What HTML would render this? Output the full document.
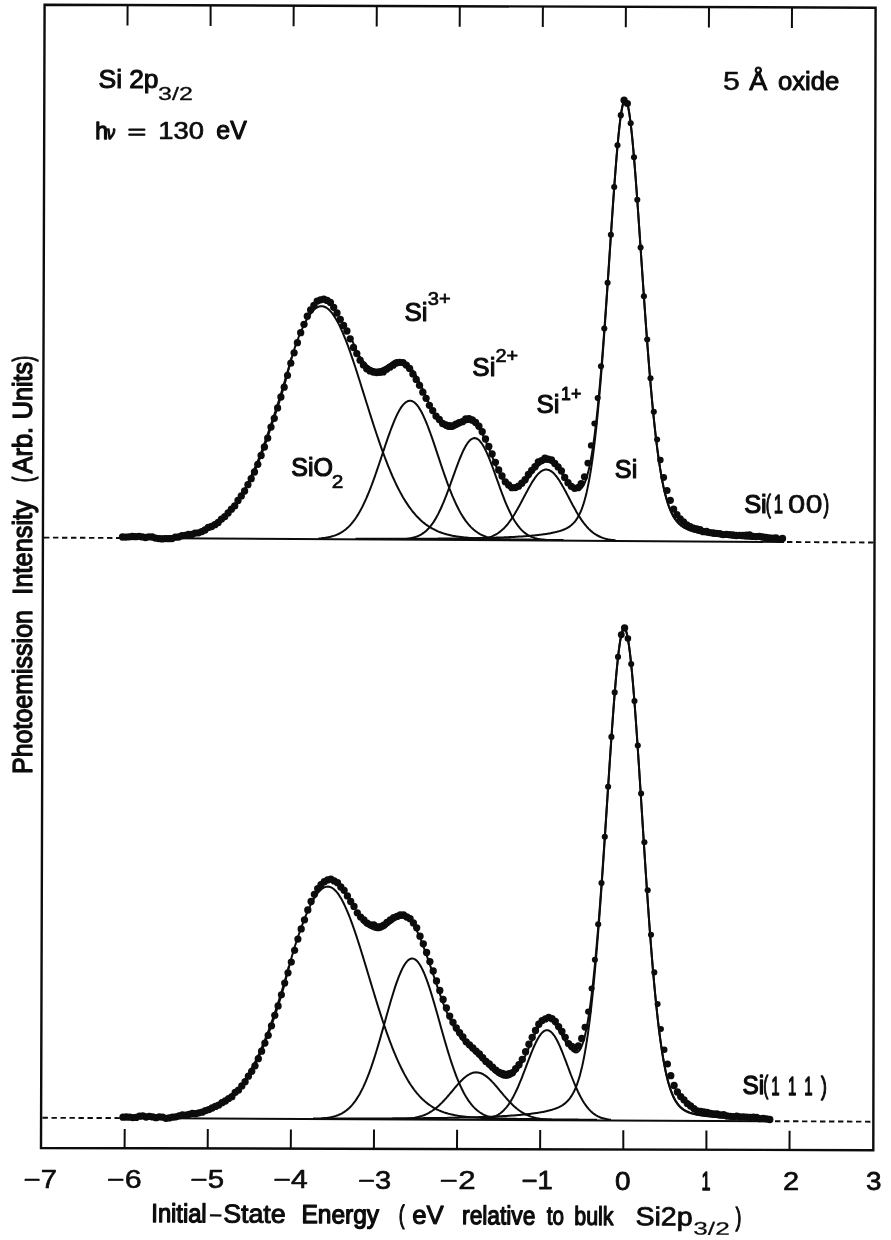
<!DOCTYPE html>
<html lang="en"><head><meta charset="utf-8"><title>Si 2p photoemission spectra</title>
<style>
html,body{margin:0;padding:0;background:#fff;}
body{width:891px;height:1240px;overflow:hidden;}
svg{display:block;filter:blur(0.45px);}
text{font-family:"Liberation Sans",sans-serif;fill:#0c0c0c;stroke:#0c0c0c;stroke-linejoin:round;}
.ln path{fill:none;stroke:#0c0c0c;stroke-width:2.0;stroke-linejoin:round;}
.dots circle{fill:#0c0c0c;}
</style></head><body>
<svg width="891" height="1240" viewBox="0 0 891 1240">
<rect width="891" height="1240" fill="#fff"/>
<polygon points="44.6,4.8 875.6,7.7 873.3,1150.2 41.0,1148.0" fill="none" stroke="#0c0c0c" stroke-width="2.4" stroke-linejoin="miter"/>
<path d="M127.6,5.1 L127.5,25.6 M124.6,1148.2 L124.7,1128.9 M210.6,5.4 L210.6,25.9 M207.7,1148.4 L207.8,1129.1 M293.7,5.7 L293.6,26.2 M290.8,1148.7 L290.9,1129.4 M376.8,6.0 L376.7,26.5 M373.9,1148.9 L374.0,1129.6 M459.8,6.3 L459.7,26.8 M457.0,1149.1 L457.1,1129.8 M542.9,6.5 L542.8,27.0 M540.1,1149.3 L540.2,1130.0 M625.9,6.8 L625.8,27.3 M623.3,1149.5 L623.3,1130.2 M709.0,7.1 L708.9,27.6 M706.4,1149.8 L706.4,1130.5 M792.0,7.4 L791.9,27.9 M789.5,1150.0 L789.6,1130.7" stroke="#0c0c0c" stroke-width="2" fill="none"/>
<path d="M44,537.6 L122,538.0" stroke="#0c0c0c" stroke-width="1.9" stroke-dasharray="5.4 3.6" fill="none"/><path d="M787,542.0 L873.5,542.5" stroke="#0c0c0c" stroke-width="1.9" stroke-dasharray="5.4 3.6" fill="none"/><path d="M42.5,1117.8 L122,1118.1" stroke="#0c0c0c" stroke-width="1.9" stroke-dasharray="5.4 3.6" fill="none"/><path d="M775,1121.2 L872.5,1121.7" stroke="#0c0c0c" stroke-width="1.9" stroke-dasharray="5.4 3.6" fill="none"/>
<g class="ln">
<path d="M122.5,537.1 L123.5,537.1 L124.5,537.1 L125.5,537.1 L126.5,537.1 L127.5,537.1 L128.5,537.1 L129.5,537.1 L130.5,537.1 L131.5,537.1 L132.5,537.1 L133.5,537.1 L134.5,537.1 L135.5,537.1 L136.5,537.1 L137.5,537.1 L138.5,537.1 L139.5,537.1 L140.5,537.1 L141.5,537.1 L142.5,537.0 L143.5,537.0 L144.5,537.0 L145.5,537.0 L146.5,537.0 L147.5,537.0 L148.5,537.0 L149.5,537.0 L150.5,537.0 L151.5,536.9 L152.5,536.9 L153.5,536.9 L154.5,536.9 L155.5,537.1 L156.5,537.2 L157.5,537.4 L158.5,537.6 L159.5,537.8 L160.5,537.9 L161.5,538.0 L162.5,538.1 L163.5,538.2 L164.5,538.2 L165.5,538.2 L166.5,538.1 L167.5,538.1 L168.5,538.0 L169.5,537.9 L170.5,537.7 L171.5,537.6 L172.5,537.4 L173.5,537.3 L174.5,537.1 L175.5,537.0 L176.5,536.8 L177.5,536.6 L178.5,536.4 L179.5,536.2 L180.5,536.0 L181.5,535.8 L182.5,535.7 L183.5,535.5 L184.5,535.3 L185.5,535.2 L186.5,535.0 L187.5,534.9 L188.5,534.7 L189.5,534.6 L190.5,534.4 L191.5,534.3 L192.5,534.1 L193.5,533.9 L194.5,533.7 L195.5,533.4 L196.5,533.2 L197.5,533.0 L198.5,532.7 L199.5,532.4 L200.5,532.1 L201.5,531.8 L202.5,531.5 L203.5,531.1 L204.5,530.8 L205.5,530.4 L206.5,530.0 L207.5,529.6 L208.5,529.1 L209.5,528.7 L210.5,528.2 L211.5,527.6 L212.5,527.1 L213.5,526.5 L214.5,525.9 L215.5,525.3 L216.5,524.7 L217.5,524.0 L218.5,523.2 L219.5,522.5 L220.5,521.7 L221.5,520.9 L222.5,520.0 L223.5,519.1 L224.5,518.2 L225.5,517.2 L226.5,516.2 L227.5,515.2 L228.5,514.1 L229.5,512.9 L230.5,511.8 L231.5,510.5 L232.5,509.3 L233.5,507.9 L234.5,506.6 L235.5,505.2 L236.5,503.7 L237.5,502.2 L238.5,500.6 L239.5,499.0 L240.5,497.3 L241.5,495.6 L242.5,493.8 L243.5,492.0 L244.5,490.1 L245.5,488.4 L246.5,486.7 L247.5,485.0 L248.5,483.2 L249.5,481.3 L250.5,479.4 L251.5,477.5 L252.5,475.5 L253.5,473.4 L254.5,471.2 L255.5,469.0 L256.5,466.7 L257.5,464.4 L258.5,461.9 L259.5,459.4 L260.5,456.9 L261.5,454.2 L262.5,451.6 L263.5,448.8 L264.5,446.0 L265.5,443.2 L266.5,440.3 L267.5,437.4 L268.5,434.5 L269.5,431.5 L270.5,428.6 L271.5,425.6 L272.5,422.6 L273.5,419.7 L274.5,416.7 L275.5,413.6 L276.5,410.6 L277.5,407.5 L278.5,404.4 L279.5,401.2 L280.5,398.0 L281.5,394.7 L282.5,391.4 L283.5,388.0 L284.5,384.6 L285.5,381.1 L286.5,377.3 L287.5,373.6 L288.5,369.7 L289.5,365.9 L290.5,362.2 L291.5,358.6 L292.5,355.1 L293.5,351.7 L294.5,348.6 L295.5,345.6 L296.5,342.8 L297.5,340.1 L298.5,337.5 L299.5,335.0 L300.5,332.6 L301.5,330.3 L302.5,328.1 L303.5,325.9 L304.5,323.9 L305.5,321.9 L306.5,320.1 L307.5,318.4 L308.5,316.7 L309.5,315.2 L310.5,313.8 L311.5,312.5 L312.5,311.3 L313.5,310.2 L314.5,309.3 L315.5,308.5 L316.5,307.8 L317.5,307.2 L318.5,306.8 L319.5,306.4 L320.5,306.3 L321.5,306.2 L322.5,306.3 L323.5,306.5 L324.5,306.8 L325.5,307.2 L326.5,307.8 L327.5,308.5 L328.5,309.3 L329.5,310.2 L330.5,311.3 L331.5,312.4 L332.5,313.7 L333.5,315.1 L334.5,316.6 L335.5,318.2 L336.5,319.9 L337.5,321.7 L338.5,323.6 L339.5,325.6 L340.5,327.7 L341.5,329.9 L342.5,332.2 L343.5,334.6 L344.5,337.0 L345.5,339.5 L346.5,342.1 L347.5,344.7 L348.5,347.4 L349.5,350.2 L350.5,353.0 L351.5,355.9 L352.5,358.8 L353.5,361.8 L354.5,364.8 L355.5,367.8 L356.5,370.9 L357.5,374.0 L358.5,377.2 L359.5,380.3 L360.5,383.5 L361.5,386.7 L362.5,389.9 L363.5,393.1 L364.5,396.3 L365.5,399.5 L366.5,402.7 L367.5,405.8 L368.5,409.0 L369.5,412.2 L370.5,415.4 L371.5,418.5 L372.5,421.6 L373.5,424.7 L374.5,427.8 L375.5,430.8 L376.5,433.8 L377.5,436.8 L378.5,439.7 L379.5,442.6 L380.5,445.5 L381.5,448.3 L382.5,451.1 L383.5,453.8 L384.5,456.5 L385.5,459.1 L386.5,461.7 L387.5,464.3 L388.5,466.8 L389.5,469.2 L390.5,471.6 L391.5,474.0 L392.5,476.3 L393.5,478.5 L394.5,480.7 L395.5,482.9 L396.5,485.0 L397.5,487.0 L398.5,489.0 L399.5,490.9 L400.5,492.8 L401.5,494.6 L402.5,496.4 L403.5,498.1 L404.5,499.7 L405.5,501.4 L406.5,502.9 L407.5,504.4 L408.5,505.9 L409.5,507.3 L410.5,508.7 L411.5,510.0 L412.5,511.3 L413.5,512.5 L414.5,513.7 L415.5,514.9 L416.5,516.0 L417.5,517.0 L418.5,518.1 L419.5,519.0 L420.5,520.0 L421.5,520.9 L422.5,521.8 L423.5,522.6 L424.5,523.4 L425.5,524.2 L426.5,524.9 L427.5,525.6 L428.5,526.3 L429.5,526.9 L430.5,527.5 L431.5,528.1 L432.5,528.7 L433.5,529.2 L434.5,529.7 L435.5,530.2 L436.5,530.7 L437.5,531.1 L438.5,531.6 L439.5,532.0 L440.5,532.3 L441.5,532.7 L442.5,533.0 L443.5,533.4 L444.5,533.7 L445.5,534.0 L446.5,534.3 L447.5,534.5 L448.5,534.8 L449.5,535.0 L450.5,535.2 L451.5,535.5 L452.5,535.7 L453.5,535.9 L454.5,536.0 L455.5,536.2 L456.5,536.4 L457.5,536.5 L458.5,536.7 L459.5,536.8 L460.5,537.0 L461.5,537.1 L462.5,537.2 L463.5,537.3 L464.5,537.4 L465.5,537.5 L466.5,537.6 L467.5,537.7 L468.5,537.8 L469.5,537.9 L470.5,537.9 L471.5,538.0 L472.5,538.1 L473.5,538.2 L474.5,538.2 L475.5,538.3 L476.5,538.3 L477.5,538.4 L478.5,538.4 L479.5,538.5 L480.5,538.5 L481.5,538.6 L482.5,538.6 L483.5,538.7 L484.5,538.7 L485.5,538.7 L486.5,538.8 L487.5,538.8 L488.5,538.8 L489.5,538.9 L490.5,538.9 L491.5,538.9 L492.5,539.0 L493.5,539.0 L494.5,539.0 L495.5,539.0 L496.5,539.1 L497.5,539.1 L498.5,539.1 L499.5,539.1 L500.5,539.2 L501.5,539.2 L502.5,539.2 L503.5,539.2 L504.5,539.2 L505.5,539.3 L506.5,539.3 L507.5,539.3 L508.5,539.3 L509.5,539.3 L510.5,539.3 L511.5,539.4 L512.5,539.4 L513.5,539.4 L514.5,539.4 L515.5,539.4 L516.5,539.4 L517.5,539.5 L518.5,539.5 L519.5,539.5 L520.5,539.5 L521.5,539.5 L522.5,539.5 L523.5,539.6 L524.5,539.6 L525.5,539.6 L526.5,539.6 L527.5,539.6 L528.5,539.6 L529.5,539.6 L530.5,539.6 L531.5,539.7 L532.5,539.7 L533.5,539.7 L534.5,539.7 L535.5,539.7 L536.5,539.7 L537.5,539.7 L538.5,539.8 L539.5,539.8 L540.5,539.8 L541.5,539.8 L542.5,539.8 L543.5,539.8 L544.5,539.8 L545.5,539.8 L546.5,539.9 L547.5,539.9 L548.5,539.9 L549.5,539.9 L550.5,539.9 L551.5,539.9 L552.5,539.9 L553.5,539.9 L554.5,539.9 L555.5,540.0 L556.5,540.0 L557.5,540.0 L558.5,540.0 L559.5,540.0 L560.5,540.0 L561.5,540.0 L562.5,540.0 L563.5,540.0"/>
<path d="M318.5,538.5 L319.5,538.4 L320.5,538.4 L321.5,538.3 L322.5,538.1 L323.5,538.0 L324.5,537.9 L325.5,537.8 L326.5,537.6 L327.5,537.4 L328.5,537.2 L329.5,537.0 L330.5,536.8 L331.5,536.5 L332.5,536.2 L333.5,535.9 L334.5,535.6 L335.5,535.2 L336.5,534.9 L337.5,534.4 L338.5,534.0 L339.5,533.5 L340.5,532.9 L341.5,532.3 L342.5,531.7 L343.5,531.0 L344.5,530.3 L345.5,529.6 L346.5,528.7 L347.5,527.8 L348.5,526.9 L349.5,525.9 L350.5,524.8 L351.5,523.7 L352.5,522.5 L353.5,521.2 L354.5,519.9 L355.5,518.5 L356.5,517.0 L357.5,515.4 L358.5,513.8 L359.5,512.1 L360.5,510.3 L361.5,508.4 L362.5,506.5 L363.5,504.4 L364.5,502.3 L365.5,500.1 L366.5,497.9 L367.5,495.5 L368.5,493.1 L369.5,490.7 L370.5,488.1 L371.5,485.5 L372.5,482.8 L373.5,480.1 L374.5,477.3 L375.5,474.5 L376.5,471.6 L377.5,468.7 L378.5,465.7 L379.5,462.7 L380.5,459.8 L381.5,456.8 L382.5,453.7 L383.5,450.7 L384.5,447.8 L385.5,444.8 L386.5,441.9 L387.5,438.9 L388.5,436.1 L389.5,433.3 L390.5,430.5 L391.5,427.9 L392.5,425.3 L393.5,422.8 L394.5,420.4 L395.5,418.1 L396.5,415.9 L397.5,413.8 L398.5,411.9 L399.5,410.1 L400.5,408.4 L401.5,406.9 L402.5,405.6 L403.5,404.4 L404.5,403.4 L405.5,402.5 L406.5,401.8 L407.5,401.3 L408.5,400.9 L409.5,400.7 L410.5,400.8 L411.5,400.9 L412.5,401.3 L413.5,401.8 L414.5,402.5 L415.5,403.4 L416.5,404.5 L417.5,405.7 L418.5,407.0 L419.5,408.6 L420.5,410.2 L421.5,412.0 L422.5,414.0 L423.5,416.1 L424.5,418.3 L425.5,420.6 L426.5,423.0 L427.5,425.5 L428.5,428.1 L429.5,430.8 L430.5,433.5 L431.5,436.3 L432.5,439.2 L433.5,442.1 L434.5,445.1 L435.5,448.1 L436.5,451.1 L437.5,454.1 L438.5,457.1 L439.5,460.1 L440.5,463.1 L441.5,466.1 L442.5,469.1 L443.5,472.0 L444.5,474.9 L445.5,477.7 L446.5,480.5 L447.5,483.3 L448.5,485.9 L449.5,488.6 L450.5,491.1 L451.5,493.6 L452.5,496.1 L453.5,498.4 L454.5,500.7 L455.5,502.9 L456.5,505.0 L457.5,507.0 L458.5,509.0 L459.5,510.9 L460.5,512.7 L461.5,514.4 L462.5,516.1 L463.5,517.6 L464.5,519.1 L465.5,520.6 L466.5,521.9 L467.5,523.2 L468.5,524.4 L469.5,525.5 L470.5,526.6 L471.5,527.6 L472.5,528.6 L473.5,529.5 L474.5,530.3 L475.5,531.1 L476.5,531.8 L477.5,532.5 L478.5,533.2 L479.5,533.8 L480.5,534.3 L481.5,534.8 L482.5,535.3 L483.5,535.7 L484.5,536.1 L485.5,536.5 L486.5,536.9 L487.5,537.2 L488.5,537.5 L489.5,537.7 L490.5,538.0 L491.5,538.2 L492.5,538.4 L493.5,538.6 L494.5,538.8 L495.5,538.9 L496.5,539.1 L497.5,539.2 L498.5,539.3 L499.5,539.4 L500.5,539.5 L501.5,539.6"/>
<path d="M404.5,539.1 L405.5,539.0 L406.5,538.9 L407.5,538.7 L408.5,538.6 L409.5,538.4 L410.5,538.3 L411.5,538.1 L412.5,537.8 L413.5,537.6 L414.5,537.3 L415.5,537.0 L416.5,536.6 L417.5,536.3 L418.5,535.8 L419.5,535.4 L420.5,534.8 L421.5,534.3 L422.5,533.6 L423.5,532.9 L424.5,532.2 L425.5,531.4 L426.5,530.5 L427.5,529.5 L428.5,528.5 L429.5,527.4 L430.5,526.2 L431.5,524.9 L432.5,523.5 L433.5,522.1 L434.5,520.5 L435.5,518.9 L436.5,517.1 L437.5,515.3 L438.5,513.4 L439.5,511.3 L440.5,509.2 L441.5,507.0 L442.5,504.7 L443.5,502.4 L444.5,499.9 L445.5,497.4 L446.5,494.8 L447.5,492.2 L448.5,489.5 L449.5,486.8 L450.5,484.0 L451.5,481.2 L452.5,478.4 L453.5,475.6 L454.5,472.8 L455.5,470.0 L456.5,467.3 L457.5,464.6 L458.5,462.0 L459.5,459.4 L460.5,457.0 L461.5,454.6 L462.5,452.4 L463.5,450.2 L464.5,448.3 L465.5,446.4 L466.5,444.8 L467.5,443.2 L468.5,441.9 L469.5,440.8 L470.5,439.8 L471.5,439.1 L472.5,438.6 L473.5,438.2 L474.5,438.1 L475.5,438.2 L476.5,438.5 L477.5,439.0 L478.5,439.7 L479.5,440.6 L480.5,441.8 L481.5,443.1 L482.5,444.5 L483.5,446.2 L484.5,448.0 L485.5,450.0 L486.5,452.1 L487.5,454.3 L488.5,456.7 L489.5,459.1 L490.5,461.7 L491.5,464.3 L492.5,467.0 L493.5,469.7 L494.5,472.5 L495.5,475.3 L496.5,478.1 L497.5,480.9 L498.5,483.7 L499.5,486.5 L500.5,489.3 L501.5,492.0 L502.5,494.6 L503.5,497.2 L504.5,499.8 L505.5,502.3 L506.5,504.7 L507.5,507.0 L508.5,509.2 L509.5,511.3 L510.5,513.4 L511.5,515.4 L512.5,517.2 L513.5,519.0 L514.5,520.7 L515.5,522.2 L516.5,523.7 L517.5,525.1 L518.5,526.4 L519.5,527.7 L520.5,528.8 L521.5,529.9 L522.5,530.9 L523.5,531.8 L524.5,532.6 L525.5,533.4 L526.5,534.1 L527.5,534.8 L528.5,535.4 L529.5,535.9 L530.5,536.4 L531.5,536.9 L532.5,537.3 L533.5,537.6 L534.5,538.0 L535.5,538.3 L536.5,538.5 L537.5,538.8 L538.5,539.0 L539.5,539.2 L540.5,539.4 L541.5,539.5 L542.5,539.7 L543.5,539.8 L544.5,539.9"/>
<path d="M477.5,539.5 L478.5,539.4 L479.5,539.3 L480.5,539.2 L481.5,539.0 L482.5,538.9 L483.5,538.7 L484.5,538.5 L485.5,538.3 L486.5,538.1 L487.5,537.9 L488.5,537.6 L489.5,537.3 L490.5,536.9 L491.5,536.6 L492.5,536.2 L493.5,535.7 L494.5,535.2 L495.5,534.7 L496.5,534.1 L497.5,533.5 L498.5,532.8 L499.5,532.1 L500.5,531.3 L501.5,530.5 L502.5,529.6 L503.5,528.7 L504.5,527.7 L505.5,526.6 L506.5,525.5 L507.5,524.3 L508.5,523.0 L509.5,521.7 L510.5,520.3 L511.5,518.9 L512.5,517.4 L513.5,515.8 L514.5,514.2 L515.5,512.5 L516.5,510.8 L517.5,509.1 L518.5,507.3 L519.5,505.5 L520.5,503.6 L521.5,501.7 L522.5,499.8 L523.5,497.9 L524.5,496.0 L525.5,494.1 L526.5,492.2 L527.5,490.4 L528.5,488.5 L529.5,486.7 L530.5,485.0 L531.5,483.3 L532.5,481.6 L533.5,480.1 L534.5,478.6 L535.5,477.2 L536.5,475.9 L537.5,474.7 L538.5,473.6 L539.5,472.7 L540.5,471.8 L541.5,471.1 L542.5,470.5 L543.5,470.1 L544.5,469.8 L545.5,469.6 L546.5,469.5 L547.5,469.7 L548.5,469.9 L549.5,470.3 L550.5,470.8 L551.5,471.4 L552.5,472.2 L553.5,473.1 L554.5,474.2 L555.5,475.3 L556.5,476.5 L557.5,477.9 L558.5,479.3 L559.5,480.8 L560.5,482.5 L561.5,484.1 L562.5,485.9 L563.5,487.6 L564.5,489.5 L565.5,491.3 L566.5,493.2 L567.5,495.1 L568.5,497.0 L569.5,499.0 L570.5,500.9 L571.5,502.8 L572.5,504.7 L573.5,506.5 L574.5,508.3 L575.5,510.1 L576.5,511.9 L577.5,513.6 L578.5,515.2 L579.5,516.8 L580.5,518.4 L581.5,519.9 L582.5,521.3 L583.5,522.7 L584.5,524.0 L585.5,525.2 L586.5,526.4 L587.5,527.5 L588.5,528.6 L589.5,529.6 L590.5,530.5 L591.5,531.4 L592.5,532.2 L593.5,533.0 L594.5,533.7 L595.5,534.3 L596.5,535.0 L597.5,535.5 L598.5,536.0 L599.5,536.5 L600.5,537.0 L601.5,537.4 L602.5,537.7 L603.5,538.1 L604.5,538.4 L605.5,538.7 L606.5,538.9 L607.5,539.2 L608.5,539.4 L609.5,539.6 L610.5,539.7 L611.5,539.9 L612.5,540.0 L613.5,540.1 L614.5,540.2 L615.5,540.3"/>
<path d="M355.5,538.8 L356.5,538.8 L357.5,538.8 L358.5,538.8 L359.5,538.8 L360.5,538.8 L361.5,538.8 L362.5,538.8 L363.5,538.8 L364.5,538.8 L365.5,538.8 L366.5,538.8 L367.5,538.8 L368.5,538.8 L369.5,538.8 L370.5,538.8 L371.5,538.8 L372.5,538.8 L373.5,538.8 L374.5,538.8 L375.5,538.8 L376.5,538.8 L377.5,538.8 L378.5,538.8 L379.5,538.8 L380.5,538.8 L381.5,538.8 L382.5,538.8 L383.5,538.8 L384.5,538.8 L385.5,538.8 L386.5,538.8 L387.5,538.8 L388.5,538.8 L389.5,538.8 L390.5,538.8 L391.5,538.8 L392.5,538.8 L393.5,538.8 L394.5,538.8 L395.5,538.8 L396.5,538.8 L397.5,538.8 L398.5,538.8 L399.5,538.8 L400.5,538.8 L401.5,538.8 L402.5,538.8 L403.5,538.8 L404.5,538.8 L405.5,538.8 L406.5,538.8 L407.5,538.8 L408.5,538.8 L409.5,538.8 L410.5,538.8 L411.5,538.8 L412.5,538.8 L413.5,538.8 L414.5,538.8 L415.5,538.8 L416.5,538.8 L417.5,538.8 L418.5,538.8 L419.5,538.8 L420.5,538.7 L421.5,538.7 L422.5,538.7 L423.5,538.7 L424.5,538.7 L425.5,538.7 L426.5,538.7 L427.5,538.7 L428.5,538.7 L429.5,538.7 L430.5,538.7 L431.5,538.7 L432.5,538.7 L433.5,538.7 L434.5,538.7 L435.5,538.7 L436.5,538.7 L437.5,538.7 L438.5,538.6 L439.5,538.6 L440.5,538.6 L441.5,538.6 L442.5,538.6 L443.5,538.6 L444.5,538.6 L445.5,538.6 L446.5,538.6 L447.5,538.6 L448.5,538.6 L449.5,538.6 L450.5,538.5 L451.5,538.5 L452.5,538.5 L453.5,538.5 L454.5,538.5 L455.5,538.5 L456.5,538.5 L457.5,538.5 L458.5,538.5 L459.5,538.4 L460.5,538.4 L461.5,538.4 L462.5,538.4 L463.5,538.4 L464.5,538.4 L465.5,538.4 L466.5,538.3 L467.5,538.3 L468.5,538.3 L469.5,538.3 L470.5,538.3 L471.5,538.3 L472.5,538.2 L473.5,538.2 L474.5,538.2 L475.5,538.2 L476.5,538.2 L477.5,538.1 L478.5,538.1 L479.5,538.1 L480.5,538.1 L481.5,538.1 L482.5,538.0 L483.5,538.0 L484.5,538.0 L485.5,538.0 L486.5,537.9 L487.5,537.9 L488.5,537.9 L489.5,537.9 L490.5,537.8 L491.5,537.8 L492.5,537.8 L493.5,537.7 L494.5,537.7 L495.5,537.7 L496.5,537.6 L497.5,537.6 L498.5,537.6 L499.5,537.5 L500.5,537.5 L501.5,537.5 L502.5,537.4 L503.5,537.4 L504.5,537.3 L505.5,537.3 L506.5,537.3 L507.5,537.2 L508.5,537.2 L509.5,537.1 L510.5,537.1 L511.5,537.0 L512.5,537.0 L513.5,536.9 L514.5,536.9 L515.5,536.8 L516.5,536.8 L517.5,536.7 L518.5,536.6 L519.5,536.6 L520.5,536.5 L521.5,536.4 L522.5,536.4 L523.5,536.3 L524.5,536.2 L525.5,536.2 L526.5,536.1 L527.5,536.0 L528.5,535.9 L529.5,535.8 L530.5,535.7 L531.5,535.7 L532.5,535.6 L533.5,535.5 L534.5,535.4 L535.5,535.3 L536.5,535.2 L537.5,535.0 L538.5,534.9 L539.5,534.8 L540.5,534.7 L541.5,534.6 L542.5,534.4 L543.5,534.3 L544.5,534.2 L545.5,534.0 L546.5,533.9 L547.5,533.7 L548.5,533.5 L549.5,533.4 L550.5,533.2 L551.5,533.0 L552.5,532.8 L553.5,532.6 L554.5,532.4 L555.5,532.1 L556.5,531.9 L557.5,531.6 L558.5,531.4 L559.5,531.1 L560.5,530.8 L561.5,530.5 L562.5,530.1 L563.5,529.7 L564.5,529.3 L565.5,528.8 L566.5,528.4 L567.5,527.8 L568.5,527.2 L569.5,526.6 L570.5,525.8 L571.5,525.0 L572.5,524.1 L573.5,523.1 L574.5,522.0 L575.5,520.8 L576.5,519.4 L577.5,517.8 L578.5,516.1 L579.5,514.2 L580.5,512.0 L581.5,509.6 L582.5,506.9 L583.5,503.9 L584.5,500.6 L585.5,496.9 L586.5,492.9 L587.5,488.4 L588.5,483.5 L589.5,478.1 L590.5,472.3 L591.5,465.9 L592.5,459.0 L593.5,451.5 L594.5,443.4 L595.5,434.7 L596.5,425.4 L597.5,415.6 L598.5,405.1 L599.5,394.0 L600.5,382.3 L601.5,370.1 L602.5,357.3 L603.5,344.0 L604.5,330.3 L605.5,316.1 L606.5,301.6 L607.5,286.9 L608.5,272.0 L609.5,256.9 L610.5,241.9 L611.5,227.0 L612.5,212.3 L613.5,197.9 L614.5,184.0 L615.5,170.7 L616.5,158.2 L617.5,146.5 L618.5,135.9 L619.5,126.4 L620.5,118.2 L621.5,111.4 L622.5,106.1 L623.5,102.5 L624.5,100.4 L625.5,100.1 L626.5,101.4 L627.5,104.4 L628.5,108.9 L629.5,114.9 L630.5,122.3 L631.5,131.0 L632.5,140.9 L633.5,151.9 L634.5,163.8 L635.5,176.4 L636.5,189.7 L637.5,203.5 L638.5,217.8 L639.5,232.3 L640.5,246.9 L641.5,261.6 L642.5,276.3 L643.5,290.9 L644.5,305.2 L645.5,319.3 L646.5,333.0 L647.5,346.3 L648.5,359.2 L649.5,371.5 L650.5,383.4 L651.5,394.7 L652.5,405.5 L653.5,415.7 L654.5,425.3 L655.5,434.3 L656.5,442.7 L657.5,450.6 L658.5,458.0 L659.5,464.7 L660.5,471.0 L661.5,476.8 L662.5,482.1 L663.5,487.0 L664.5,491.4 L665.5,495.4 L666.5,499.1 L667.5,502.5 L668.5,505.5 L669.5,508.2 L670.5,510.7 L671.5,512.9 L672.5,514.9 L673.5,516.7 L674.5,518.3 L675.5,519.7 L676.5,521.0 L677.5,522.2 L678.5,523.3 L679.5,524.2 L680.5,525.1 L681.5,525.9 L682.5,526.6 L683.5,527.3 L684.5,527.9 L685.5,528.4 L686.5,528.9 L687.5,529.4 L688.5,529.8 L689.5,530.2 L690.5,530.6 L691.5,530.9 L692.5,531.2 L693.5,531.5 L694.5,531.8 L695.5,532.1 L696.5,532.4 L697.5,532.6 L698.5,532.9 L699.5,533.1 L700.5,533.3 L701.5,533.5 L702.5,533.7 L703.5,533.9 L704.5,534.1 L705.5,534.3 L706.5,534.4 L707.5,534.6 L708.5,534.8 L709.5,534.9 L710.5,535.1 L711.5,535.2 L712.5,535.4 L713.5,535.5 L714.5,535.6 L715.5,535.8 L716.5,535.9 L717.5,536.0 L718.5,536.1 L719.5,536.3 L720.5,536.4 L721.5,536.5 L722.5,536.6 L723.5,536.7 L724.5,536.8 L725.5,536.9 L726.5,537.0 L727.5,537.1 L728.5,537.2 L729.5,537.3 L730.5,537.3 L731.5,537.4 L732.5,537.5 L733.5,537.6 L734.5,537.7 L735.5,537.7 L736.5,537.8 L737.5,537.9 L738.5,538.0 L739.5,538.0 L740.5,538.1 L741.5,538.2 L742.5,538.2 L743.5,538.3 L744.5,538.4 L745.5,538.4 L746.5,538.5 L747.5,538.5 L748.5,538.6 L749.5,538.6 L750.5,538.7 L751.5,538.7 L752.5,538.8 L753.5,538.9 L754.5,538.9 L755.5,539.0 L756.5,539.0 L757.5,539.0 L758.5,539.1 L759.5,539.1 L760.5,539.2 L761.5,539.2 L762.5,539.3 L763.5,539.3 L764.5,539.4 L765.5,539.4 L766.5,539.4 L767.5,539.5 L768.5,539.5 L769.5,539.6 L770.5,539.6 L771.5,539.6 L772.5,539.7 L773.5,539.7 L774.5,539.7 L775.5,539.8 L776.5,539.8 L777.5,539.8 L778.5,539.9 L779.5,539.9 L780.5,539.9 L781.5,540.0 L782.5,540.0 L783.5,540.0"/>
<path d="M122.5,538.0 L784.0,542.0"/>
<path d="M122.5,537.0 L123.5,537.0 L124.5,537.0 L125.5,537.0 L126.5,537.0 L127.5,537.0 L128.5,536.9 L129.5,536.9 L130.5,536.9 L131.5,536.9 L132.5,536.9 L133.5,536.9 L134.5,536.9 L135.5,536.9 L136.5,536.9 L137.5,536.9 L138.5,536.9 L139.5,536.9 L140.5,536.9 L141.5,536.9 L142.5,536.9 L143.5,536.8 L144.5,536.8 L145.5,536.8 L146.5,536.8 L147.5,536.8 L148.5,536.8 L149.5,536.8 L150.5,536.8 L151.5,536.7 L152.5,536.7 L153.5,536.7 L154.5,536.7 L155.5,536.7 L156.5,536.7 L157.5,536.6 L158.5,536.6 L159.5,536.6 L160.5,536.6 L161.5,536.5 L162.5,536.5 L163.5,536.5 L164.5,536.4 L165.5,536.4 L166.5,536.4 L167.5,536.3 L168.5,536.3 L169.5,536.2 L170.5,536.2 L171.5,536.1 L172.5,536.1 L173.5,536.0 L174.5,536.0 L175.5,535.9 L176.5,535.8 L177.5,535.7 L178.5,535.7 L179.5,535.6 L180.5,535.5 L181.5,535.4 L182.5,535.3 L183.5,535.2 L184.5,535.1 L185.5,534.9 L186.5,534.8 L187.5,534.7 L188.5,534.5 L189.5,534.4 L190.5,534.2 L191.5,534.0 L192.5,533.8 L193.5,533.6 L194.5,533.4 L195.5,533.2 L196.5,533.0 L197.5,532.7 L198.5,532.5 L199.5,532.2 L200.5,531.9 L201.5,531.6 L202.5,531.2 L203.5,530.9 L204.5,530.5 L205.5,530.2 L206.5,529.7 L207.5,529.3 L208.5,528.9 L209.5,528.4 L210.5,527.9 L211.5,527.4 L212.5,526.8 L213.5,526.3 L214.5,525.7 L215.5,525.0 L216.5,524.4 L217.5,523.7 L218.5,523.0 L219.5,522.2 L220.5,521.4 L221.5,520.6 L222.5,519.8 L223.5,518.9 L224.5,517.9 L225.5,517.0 L226.5,515.9 L227.5,514.9 L228.5,513.8 L229.5,512.7 L230.5,511.5 L231.5,510.2 L232.5,509.0 L233.5,507.7 L234.5,506.3 L235.5,504.9 L236.5,503.4 L237.5,501.9 L238.5,500.3 L239.5,498.7 L240.5,497.0 L241.5,495.3 L242.5,493.5 L243.5,491.7 L244.5,489.8 L245.5,487.9 L246.5,485.9 L247.5,483.8 L248.5,481.7 L249.5,479.6 L250.5,477.3 L251.5,475.1 L252.5,472.9 L253.5,470.8 L254.5,468.6 L255.5,466.4 L256.5,464.1 L257.5,461.7 L258.5,459.3 L259.5,456.8 L260.5,454.2 L261.5,451.6 L262.5,448.9 L263.5,446.2 L264.5,443.4 L265.5,440.6 L266.5,437.7 L267.5,434.8 L268.5,431.8 L269.5,428.9 L270.5,425.9 L271.5,423.0 L272.5,420.0 L273.5,417.0 L274.5,414.0 L275.5,411.0 L276.5,407.9 L277.5,404.8 L278.5,401.7 L279.5,398.5 L280.5,395.3 L281.5,392.0 L282.5,388.7 L283.5,385.3 L284.5,382.0 L285.5,378.6 L286.5,375.1 L287.5,371.7 L288.5,368.3 L289.5,364.7 L290.5,361.1 L291.5,357.6"/>
<path d="M350.5,337.9 L351.5,339.6 L352.5,341.4 L353.5,343.7 L354.5,346.1 L355.5,348.5 L356.5,350.6 L357.5,352.6 L358.5,354.5 L359.5,356.2 L360.5,357.8 L361.5,359.2 L362.5,360.5 L363.5,361.7 L364.5,362.8 L365.5,363.8 L366.5,364.7 L367.5,365.6 L368.5,366.3 L369.5,367.0 L370.5,367.6 L371.5,368.1 L372.5,368.6 L373.5,368.9 L374.5,369.2 L375.5,369.4 L376.5,369.4 L377.5,369.4 L378.5,369.3 L379.5,369.2 L380.5,368.9 L381.5,368.6 L382.5,368.2 L383.5,367.8 L384.5,367.3 L385.5,366.8 L386.5,366.2 L387.5,365.5 L388.5,364.9 L389.5,364.2 L390.5,363.5 L391.5,362.8 L392.5,362.1 L393.5,361.4 L394.5,360.8 L395.5,360.3 L396.5,360.2 L397.5,360.1 L398.5,360.1 L399.5,360.2 L400.5,360.3 L401.5,360.6 L402.5,360.9 L403.5,361.3 L404.5,361.9 L405.5,362.5 L406.5,363.2 L407.5,364.1 L408.5,365.1 L409.5,366.1 L410.5,367.3 L411.5,368.6 L412.5,370.0 L413.5,371.5 L414.5,373.1 L415.5,374.8 L416.5,376.5 L417.5,378.4 L418.5,380.3 L419.5,382.4 L420.5,384.4 L421.5,386.5 L422.5,388.7 L423.5,390.9 L424.5,393.1 L425.5,395.4 L426.5,397.6 L427.5,399.8 L428.5,402.1 L429.5,404.2 L430.5,406.4 L431.5,408.5 L432.5,410.5 L433.5,412.5 L434.5,414.4 L435.5,416.2 L436.5,417.9 L437.5,419.5 L438.5,421.0 L439.5,422.3 L440.5,423.6 L441.5,424.7 L442.5,425.7 L443.5,426.5 L444.5,427.3 L445.5,427.9 L446.5,428.3 L447.5,428.7 L448.5,428.9 L449.5,429.0 L450.5,429.0 L451.5,428.9 L452.5,428.7 L453.5,428.4 L454.5,428.0 L455.5,427.6 L456.5,427.1 L457.5,426.6 L458.5,426.0 L459.5,425.5 L460.5,424.9 L461.5,424.4 L462.5,423.8 L463.5,423.4 L464.5,422.9 L465.5,422.6 L466.5,422.3 L467.5,422.1 L468.5,422.0 L469.5,422.0 L470.5,422.2 L471.5,422.5 L472.5,422.9 L473.5,423.4 L474.5,424.1 L475.5,424.9 L476.5,425.9 L477.5,427.0 L478.5,428.3 L479.5,429.7 L480.5,431.2 L481.5,432.9 L482.5,434.7 L483.5,436.6 L484.5,438.7 L485.5,440.8 L486.5,443.0 L487.5,445.3 L488.5,447.6 L489.5,450.0 L490.5,452.5 L491.5,454.9 L492.5,457.4 L493.5,459.8 L494.5,462.3 L495.5,464.7 L496.5,467.0 L497.5,469.3 L498.5,471.5 L499.5,473.7 L500.5,475.7 L501.5,477.6 L502.5,479.4 L503.5,481.1 L504.5,482.7 L505.5,484.1 L506.5,485.4 L507.5,486.5 L508.5,487.4 L509.5,488.3 L510.5,488.9 L511.5,489.4 L512.5,489.7 L513.5,489.9 L514.5,490.0 L515.5,489.8 L516.5,489.6 L517.5,489.2 L518.5,488.6 L519.5,488.0 L520.5,487.2 L521.5,486.3 L522.5,485.4 L523.5,484.3 L524.5,483.2 L525.5,482.0 L526.5,480.7 L527.5,479.4 L528.5,478.1 L529.5,476.7 L530.5,475.4 L531.5,474.1 L532.5,472.7 L533.5,471.5 L534.5,470.2 L535.5,469.0 L536.5,467.9 L537.5,466.8 L538.5,465.8 L539.5,464.9 L540.5,464.1 L541.5,463.4 L542.5,462.8 L543.5,462.4 L544.5,462.0 L545.5,461.8 L546.5,461.7 L547.5,461.7 L548.5,461.8 L549.5,462.1 L550.5,462.5 L551.5,463.0 L552.5,463.6 L553.5,464.3 L554.5,465.1 L555.5,466.1 L556.5,467.1 L557.5,468.2 L558.5,469.4 L559.5,470.6 L560.5,471.9 L561.5,473.3 L562.5,474.7 L563.5,476.1 L564.5,477.5 L565.5,478.9 L566.5,480.3 L567.5,481.7 L568.5,483.0 L569.5,484.3 L570.5,485.4 L571.5,486.5 L572.5,487.5 L573.5,488.4 L574.5,489.1 L575.5,489.6 L576.5,490.0 L577.5,490.1 L578.5,490.1 L579.5,489.7 L580.5,489.1 L581.5,488.2 L582.5,486.9 L583.5,485.3 L584.5,483.3 L585.5,480.8 L586.5,478.0 L587.5,474.6 L588.5,470.8 L589.5,466.4 L590.5,461.5 L591.5,456.0 L592.5,449.8 L593.5,443.1 L594.5,435.8 L595.5,427.7 L596.5,419.1 L597.5,409.8 L598.5,399.8 L599.5,389.2 L600.5,377.9 L601.5,366.1 L602.5,353.7 L603.5,340.7 L604.5,327.3 L605.5,313.4 L606.5,299.2 L607.5,284.7 L608.5,270.0 L609.5,255.1 L610.5,240.3 L611.5,225.5 L612.5,210.9 L613.5,196.7 L614.5,182.9 L615.5,169.7 L616.5,157.2 L617.5,145.6 L618.5,135.0 L619.5,125.6 L620.5,117.5 L621.5,110.7 L622.5,105.5 L623.5,101.9 L624.5,99.9 L625.5,99.6 L626.5,100.9 L627.5,103.9 L628.5,108.4 L629.5,114.4 L630.5,121.9 L631.5,130.6 L632.5,140.5 L633.5,151.5 L634.5,163.4 L635.5,176.0 L636.5,189.3 L637.5,203.2 L638.5,217.4 L639.5,231.9 L640.5,246.6 L641.5,261.3 L642.5,275.9 L643.5,290.5 L644.5,304.8 L645.5,318.9 L646.5,332.6 L647.5,345.9 L648.5,358.8 L649.5,371.2 L650.5,383.1 L651.5,394.4 L652.5,405.2 L653.5,415.3 L654.5,424.9 L655.5,434.0 L656.5,442.4 L657.5,450.3 L658.5,457.6 L659.5,464.4 L660.5,470.7 L661.5,476.5 L662.5,481.8 L663.5,486.7 L664.5,491.1 L665.5,495.1 L666.5,498.8 L667.5,502.2 L668.5,505.2 L669.5,507.9 L670.5,510.4 L671.5,512.6 L672.5,514.6 L673.5,516.4 L674.5,518.0 L675.5,519.5 L676.5,520.8 L677.5,521.9 L678.5,523.0 L679.5,524.0 L680.5,524.8 L681.5,525.6 L682.5,526.3 L683.5,527.0 L684.5,527.6 L685.5,528.1 L686.5,528.6 L687.5,529.1 L688.5,529.5 L689.5,529.9 L690.5,530.3 L691.5,530.6 L692.5,531.0 L693.5,531.3 L694.5,531.6 L695.5,531.8 L696.5,532.1 L697.5,532.4 L698.5,532.6 L699.5,532.8 L700.5,533.1 L701.5,533.3 L702.5,533.5 L703.5,533.7 L704.5,533.8 L705.5,534.0 L706.5,534.2 L707.5,534.4 L708.5,534.5 L709.5,534.7 L710.5,534.8 L711.5,535.0 L712.5,535.1 L713.5,535.3 L714.5,535.4 L715.5,535.5 L716.5,535.7 L717.5,535.8 L718.5,535.9 L719.5,536.0 L720.5,536.1 L721.5,536.3 L722.5,536.4 L723.5,536.5 L724.5,536.6 L725.5,536.7 L726.5,536.8 L727.5,536.9 L728.5,536.9 L729.5,537.0 L730.5,537.1 L731.5,537.2 L732.5,537.3 L733.5,537.4 L734.5,537.5 L735.5,537.5 L736.5,537.6 L737.5,537.7 L738.5,537.8 L739.5,537.8 L740.5,537.9 L741.5,538.0 L742.5,538.0 L743.5,538.1 L744.5,538.1 L745.5,538.2 L746.5,538.3 L747.5,538.3 L748.5,538.4 L749.5,538.4 L750.5,538.5 L751.5,538.6 L752.5,538.6 L753.5,538.7 L754.5,538.7 L755.5,538.8 L756.5,538.8 L757.5,538.9 L758.5,538.9 L759.5,538.9 L760.5,539.0 L761.5,539.0 L762.5,539.1 L763.5,539.1 L764.5,539.2 L765.5,539.2 L766.5,539.3 L767.5,539.3 L768.5,539.3 L769.5,539.4 L770.5,539.4 L771.5,539.4 L772.5,539.5 L773.5,539.5 L774.5,539.6 L775.5,539.6 L776.5,539.6 L777.5,539.7 L778.5,539.7 L779.5,539.7 L780.5,539.8 L781.5,539.8 L782.5,539.8 L783.5,539.9"/>
<path d="M123.0,1117.0 L124.0,1117.0 L125.0,1117.0 L126.0,1117.0 L127.0,1117.0 L128.0,1117.0 L129.0,1117.0 L130.0,1117.0 L131.0,1117.0 L132.0,1117.0 L133.0,1117.0 L134.0,1117.0 L135.0,1117.0 L136.0,1117.0 L137.0,1116.9 L138.0,1116.9 L139.0,1116.9 L140.0,1116.9 L141.0,1116.9 L142.0,1116.9 L143.0,1116.9 L144.0,1116.9 L145.0,1116.9 L146.0,1116.9 L147.0,1116.8 L148.0,1116.8 L149.0,1116.8 L150.0,1116.8 L151.0,1116.8 L152.0,1116.8 L153.0,1116.8 L154.0,1116.7 L155.0,1116.7 L156.0,1116.7 L157.0,1116.7 L158.0,1116.8 L159.0,1116.9 L160.0,1117.0 L161.0,1117.1 L162.0,1117.2 L163.0,1117.3 L164.0,1117.4 L165.0,1117.4 L166.0,1117.4 L167.0,1117.4 L168.0,1117.3 L169.0,1117.2 L170.0,1117.1 L171.0,1116.9 L172.0,1116.7 L173.0,1116.5 L174.0,1116.4 L175.0,1116.2 L176.0,1116.1 L177.0,1116.0 L178.0,1116.0 L179.0,1115.9 L180.0,1115.9 L181.0,1115.8 L182.0,1115.7 L183.0,1115.6 L184.0,1115.6 L185.0,1115.5 L186.0,1115.4 L187.0,1115.3 L188.0,1115.2 L189.0,1115.1 L190.0,1115.0 L191.0,1114.8 L192.0,1114.7 L193.0,1114.6 L194.0,1114.4 L195.0,1114.3 L196.0,1114.1 L197.0,1114.0 L198.0,1113.8 L199.0,1113.6 L200.0,1113.4 L201.0,1113.2 L202.0,1112.9 L203.0,1112.7 L204.0,1112.5 L205.0,1112.2 L206.0,1111.9 L207.0,1111.6 L208.0,1111.3 L209.0,1111.0 L210.0,1110.6 L211.0,1110.3 L212.0,1109.8 L213.0,1109.4 L214.0,1108.9 L215.0,1108.4 L216.0,1107.9 L217.0,1107.3 L218.0,1106.8 L219.0,1106.2 L220.0,1105.6 L221.0,1105.0 L222.0,1104.4 L223.0,1103.8 L224.0,1103.1 L225.0,1102.4 L226.0,1101.8 L227.0,1101.0 L228.0,1100.3 L229.0,1099.5 L230.0,1098.6 L231.0,1097.7 L232.0,1096.7 L233.0,1095.7 L234.0,1094.6 L235.0,1093.6 L236.0,1092.4 L237.0,1091.2 L238.0,1090.0 L239.0,1088.8 L240.0,1087.5 L241.0,1086.3 L242.0,1085.1 L243.0,1083.9 L244.0,1082.6 L245.0,1081.3 L246.0,1079.9 L247.0,1078.4 L248.0,1076.9 L249.0,1075.4 L250.0,1073.8 L251.0,1072.1 L252.0,1070.4 L253.0,1068.6 L254.0,1066.8 L255.0,1064.9 L256.0,1062.9 L257.0,1060.9 L258.0,1058.8 L259.0,1056.6 L260.0,1054.4 L261.0,1052.1 L262.0,1049.7 L263.0,1047.3 L264.0,1044.9 L265.0,1042.4 L266.0,1039.9 L267.0,1037.4 L268.0,1034.8 L269.0,1032.1 L270.0,1029.4 L271.0,1026.7 L272.0,1023.9 L273.0,1021.0 L274.0,1018.1 L275.0,1015.2 L276.0,1012.1 L277.0,1009.1 L278.0,1006.0 L279.0,1002.9 L280.0,999.7 L281.0,996.4 L282.0,993.2 L283.0,989.8 L284.0,986.2 L285.0,982.4 L286.0,978.6 L287.0,974.7 L288.0,970.8 L289.0,967.0 L290.0,963.2 L291.0,959.5 L292.0,955.9 L293.0,952.5 L294.0,949.2 L295.0,946.0 L296.0,942.9 L297.0,939.9 L298.0,936.9 L299.0,934.0 L300.0,931.1 L301.0,928.3 L302.0,925.6 L303.0,922.9 L304.0,920.2 L305.0,917.7 L306.0,915.2 L307.0,912.8 L308.0,910.5 L309.0,908.3 L310.0,906.1 L311.0,904.1 L312.0,902.2 L313.0,900.3 L314.0,898.6 L315.0,896.9 L316.0,895.4 L317.0,894.0 L318.0,892.7 L319.0,891.5 L320.0,890.5 L321.0,889.6 L322.0,888.8 L323.0,888.1 L324.0,887.5 L325.0,887.1 L326.0,886.8 L327.0,886.7 L328.0,886.6 L329.0,886.7 L330.0,887.0 L331.0,887.3 L332.0,887.8 L333.0,888.5 L334.0,889.3 L335.0,890.2 L336.0,891.2 L337.0,892.4 L338.0,893.7 L339.0,895.1 L340.0,896.7 L341.0,898.3 L342.0,900.1 L343.0,902.0 L344.0,904.0 L345.0,906.1 L346.0,908.3 L347.0,910.6 L348.0,913.0 L349.0,915.4 L350.0,918.0 L351.0,920.6 L352.0,923.4 L353.0,926.1 L354.0,929.0 L355.0,931.9 L356.0,934.9 L357.0,937.9 L358.0,941.0 L359.0,944.1 L360.0,947.3 L361.0,950.5 L362.0,953.7 L363.0,956.9 L364.0,960.2 L365.0,963.5 L366.0,966.8 L367.0,970.1 L368.0,973.5 L369.0,976.8 L370.0,980.1 L371.0,983.4 L372.0,986.7 L373.0,990.0 L374.0,993.3 L375.0,996.6 L376.0,999.8 L377.0,1003.1 L378.0,1006.2 L379.0,1009.4 L380.0,1012.5 L381.0,1015.6 L382.0,1018.7 L383.0,1021.7 L384.0,1024.7 L385.0,1027.6 L386.0,1030.5 L387.0,1033.3 L388.0,1036.1 L389.0,1038.9 L390.0,1041.6 L391.0,1044.2 L392.0,1046.8 L393.0,1049.3 L394.0,1051.8 L395.0,1054.2 L396.0,1056.6 L397.0,1058.9 L398.0,1061.1 L399.0,1063.3 L400.0,1065.4 L401.0,1067.5 L402.0,1069.5 L403.0,1071.5 L404.0,1073.4 L405.0,1075.3 L406.0,1077.0 L407.0,1078.8 L408.0,1080.5 L409.0,1082.1 L410.0,1083.7 L411.0,1085.2 L412.0,1086.7 L413.0,1088.1 L414.0,1089.5 L415.0,1090.8 L416.0,1092.0 L417.0,1093.3 L418.0,1094.4 L419.0,1095.6 L420.0,1096.7 L421.0,1097.7 L422.0,1098.7 L423.0,1099.7 L424.0,1100.6 L425.0,1101.5 L426.0,1102.3 L427.0,1103.1 L428.0,1103.9 L429.0,1104.6 L430.0,1105.3 L431.0,1106.0 L432.0,1106.7 L433.0,1107.3 L434.0,1107.9 L435.0,1108.4 L436.0,1109.0 L437.0,1109.5 L438.0,1109.9 L439.0,1110.4 L440.0,1110.8 L441.0,1111.2 L442.0,1111.6 L443.0,1112.0 L444.0,1112.4 L445.0,1112.7 L446.0,1113.0 L447.0,1113.3 L448.0,1113.6 L449.0,1113.9 L450.0,1114.1 L451.0,1114.4 L452.0,1114.6 L453.0,1114.8 L454.0,1115.0 L455.0,1115.2 L456.0,1115.4 L457.0,1115.6 L458.0,1115.8 L459.0,1115.9 L460.0,1116.1 L461.0,1116.2 L462.0,1116.3 L463.0,1116.5 L464.0,1116.6 L465.0,1116.7 L466.0,1116.8 L467.0,1116.9 L468.0,1117.0 L469.0,1117.1 L470.0,1117.2 L471.0,1117.2 L472.0,1117.3 L473.0,1117.4 L474.0,1117.5 L475.0,1117.5 L476.0,1117.6 L477.0,1117.7 L478.0,1117.7 L479.0,1117.8 L480.0,1117.8 L481.0,1117.9 L482.0,1117.9 L483.0,1118.0 L484.0,1118.0 L485.0,1118.0 L486.0,1118.1 L487.0,1118.1 L488.0,1118.2 L489.0,1118.2 L490.0,1118.2 L491.0,1118.3 L492.0,1118.3 L493.0,1118.3 L494.0,1118.4 L495.0,1118.4 L496.0,1118.4 L497.0,1118.4 L498.0,1118.5 L499.0,1118.5 L500.0,1118.5 L501.0,1118.5 L502.0,1118.6 L503.0,1118.6 L504.0,1118.6 L505.0,1118.6 L506.0,1118.6 L507.0,1118.7 L508.0,1118.7 L509.0,1118.7 L510.0,1118.7 L511.0,1118.7 L512.0,1118.8 L513.0,1118.8 L514.0,1118.8 L515.0,1118.8 L516.0,1118.8 L517.0,1118.9 L518.0,1118.9 L519.0,1118.9 L520.0,1118.9 L521.0,1118.9 L522.0,1118.9 L523.0,1119.0 L524.0,1119.0 L525.0,1119.0 L526.0,1119.0 L527.0,1119.0 L528.0,1119.0 L529.0,1119.0 L530.0,1119.1 L531.0,1119.1 L532.0,1119.1 L533.0,1119.1 L534.0,1119.1 L535.0,1119.1 L536.0,1119.1 L537.0,1119.2 L538.0,1119.2 L539.0,1119.2 L540.0,1119.2 L541.0,1119.2 L542.0,1119.2 L543.0,1119.2 L544.0,1119.3 L545.0,1119.3 L546.0,1119.3 L547.0,1119.3 L548.0,1119.3 L549.0,1119.3 L550.0,1119.3 L551.0,1119.3 L552.0,1119.4 L553.0,1119.4 L554.0,1119.4 L555.0,1119.4 L556.0,1119.4 L557.0,1119.4 L558.0,1119.4 L559.0,1119.4 L560.0,1119.5 L561.0,1119.5 L562.0,1119.5 L563.0,1119.5 L564.0,1119.5 L565.0,1119.5 L566.0,1119.5 L567.0,1119.5 L568.0,1119.5 L569.0,1119.6 L570.0,1119.6 L571.0,1119.6 L572.0,1119.6 L573.0,1119.6 L574.0,1119.6 L575.0,1119.6 L576.0,1119.6 L577.0,1119.6 L578.0,1119.6 L579.0,1119.7 L580.0,1119.7 L581.0,1119.7 L582.0,1119.7 L583.0,1119.7 L584.0,1119.7 L585.0,1119.7 L586.0,1119.7 L587.0,1119.7 L588.0,1119.7 L589.0,1119.8 L590.0,1119.8 L591.0,1119.8 L592.0,1119.8 L593.0,1119.8 L594.0,1119.8 L595.0,1119.8 L596.0,1119.8 L597.0,1119.8"/>
<path d="M321.0,1118.5 L322.0,1118.4 L323.0,1118.3 L324.0,1118.2 L325.0,1118.1 L326.0,1118.0 L327.0,1117.9 L328.0,1117.7 L329.0,1117.6 L330.0,1117.4 L331.0,1117.2 L332.0,1117.0 L333.0,1116.7 L334.0,1116.5 L335.0,1116.2 L336.0,1115.9 L337.0,1115.5 L338.0,1115.2 L339.0,1114.7 L340.0,1114.3 L341.0,1113.8 L342.0,1113.3 L343.0,1112.7 L344.0,1112.1 L345.0,1111.4 L346.0,1110.7 L347.0,1109.9 L348.0,1109.1 L349.0,1108.2 L350.0,1107.2 L351.0,1106.2 L352.0,1105.1 L353.0,1103.9 L354.0,1102.6 L355.0,1101.3 L356.0,1099.9 L357.0,1098.4 L358.0,1096.8 L359.0,1095.2 L360.0,1093.4 L361.0,1091.5 L362.0,1089.6 L363.0,1087.6 L364.0,1085.4 L365.0,1083.2 L366.0,1080.8 L367.0,1078.4 L368.0,1075.9 L369.0,1073.3 L370.0,1070.6 L371.0,1067.8 L372.0,1064.9 L373.0,1061.9 L374.0,1058.9 L375.0,1055.7 L376.0,1052.5 L377.0,1049.2 L378.0,1045.9 L379.0,1042.5 L380.0,1039.1 L381.0,1035.6 L382.0,1032.1 L383.0,1028.5 L384.0,1025.0 L385.0,1021.4 L386.0,1017.8 L387.0,1014.3 L388.0,1010.7 L389.0,1007.2 L390.0,1003.7 L391.0,1000.3 L392.0,997.0 L393.0,993.7 L394.0,990.5 L395.0,987.4 L396.0,984.4 L397.0,981.6 L398.0,978.8 L399.0,976.2 L400.0,973.8 L401.0,971.5 L402.0,969.3 L403.0,967.4 L404.0,965.6 L405.0,964.0 L406.0,962.6 L407.0,961.4 L408.0,960.4 L409.0,959.6 L410.0,959.0 L411.0,958.7 L412.0,958.5 L413.0,958.6 L414.0,958.9 L415.0,959.4 L416.0,960.1 L417.0,961.0 L418.0,962.1 L419.0,963.5 L420.0,965.0 L421.0,966.7 L422.0,968.6 L423.0,970.7 L424.0,972.9 L425.0,975.3 L426.0,977.9 L427.0,980.6 L428.0,983.4 L429.0,986.4 L430.0,989.4 L431.0,992.6 L432.0,995.9 L433.0,999.2 L434.0,1002.6 L435.0,1006.0 L436.0,1009.5 L437.0,1013.1 L438.0,1016.6 L439.0,1020.2 L440.0,1023.8 L441.0,1027.4 L442.0,1030.9 L443.0,1034.5 L444.0,1038.0 L445.0,1041.5 L446.0,1044.9 L447.0,1048.3 L448.0,1051.6 L449.0,1054.8 L450.0,1058.0 L451.0,1061.1 L452.0,1064.1 L453.0,1067.0 L454.0,1069.9 L455.0,1072.6 L456.0,1075.3 L457.0,1077.9 L458.0,1080.3 L459.0,1082.7 L460.0,1085.0 L461.0,1087.2 L462.0,1089.3 L463.0,1091.3 L464.0,1093.2 L465.0,1095.0 L466.0,1096.7 L467.0,1098.3 L468.0,1099.9 L469.0,1101.3 L470.0,1102.7 L471.0,1104.0 L472.0,1105.2 L473.0,1106.3 L474.0,1107.4 L475.0,1108.4 L476.0,1109.3 L477.0,1110.2 L478.0,1111.0 L479.0,1111.8 L480.0,1112.5 L481.0,1113.1 L482.0,1113.7 L483.0,1114.3 L484.0,1114.8 L485.0,1115.3 L486.0,1115.7 L487.0,1116.1 L488.0,1116.5 L489.0,1116.8 L490.0,1117.1 L491.0,1117.4 L492.0,1117.7 L493.0,1117.9 L494.0,1118.1 L495.0,1118.3 L496.0,1118.5 L497.0,1118.7 L498.0,1118.8 L499.0,1118.9 L500.0,1119.0 L501.0,1119.2 L502.0,1119.2 L503.0,1119.3"/>
<path d="M406.0,1118.8 L407.0,1118.8 L408.0,1118.7 L409.0,1118.6 L410.0,1118.5 L411.0,1118.3 L412.0,1118.2 L413.0,1118.1 L414.0,1117.9 L415.0,1117.7 L416.0,1117.5 L417.0,1117.3 L418.0,1117.1 L419.0,1116.8 L420.0,1116.5 L421.0,1116.2 L422.0,1115.9 L423.0,1115.5 L424.0,1115.2 L425.0,1114.8 L426.0,1114.3 L427.0,1113.8 L428.0,1113.3 L429.0,1112.8 L430.0,1112.2 L431.0,1111.6 L432.0,1111.0 L433.0,1110.3 L434.0,1109.6 L435.0,1108.8 L436.0,1108.0 L437.0,1107.2 L438.0,1106.4 L439.0,1105.5 L440.0,1104.5 L441.0,1103.6 L442.0,1102.6 L443.0,1101.5 L444.0,1100.5 L445.0,1099.4 L446.0,1098.3 L447.0,1097.2 L448.0,1096.0 L449.0,1094.8 L450.0,1093.7 L451.0,1092.5 L452.0,1091.3 L453.0,1090.1 L454.0,1088.9 L455.0,1087.7 L456.0,1086.5 L457.0,1085.4 L458.0,1084.2 L459.0,1083.1 L460.0,1082.0 L461.0,1081.0 L462.0,1080.0 L463.0,1079.0 L464.0,1078.1 L465.0,1077.3 L466.0,1076.5 L467.0,1075.7 L468.0,1075.1 L469.0,1074.5 L470.0,1073.9 L471.0,1073.5 L472.0,1073.1 L473.0,1072.8 L474.0,1072.5 L475.0,1072.4 L476.0,1072.3 L477.0,1072.4 L478.0,1072.5 L479.0,1072.7 L480.0,1072.9 L481.0,1073.3 L482.0,1073.7 L483.0,1074.2 L484.0,1074.8 L485.0,1075.4 L486.0,1076.1 L487.0,1076.9 L488.0,1077.7 L489.0,1078.6 L490.0,1079.6 L491.0,1080.5 L492.0,1081.6 L493.0,1082.6 L494.0,1083.7 L495.0,1084.9 L496.0,1086.0 L497.0,1087.2 L498.0,1088.4 L499.0,1089.6 L500.0,1090.8 L501.0,1092.0 L502.0,1093.2 L503.0,1094.4 L504.0,1095.6 L505.0,1096.7 L506.0,1097.9 L507.0,1099.0 L508.0,1100.1 L509.0,1101.2 L510.0,1102.3 L511.0,1103.3 L512.0,1104.3 L513.0,1105.3 L514.0,1106.2 L515.0,1107.1 L516.0,1107.9 L517.0,1108.8 L518.0,1109.5 L519.0,1110.3 L520.0,1111.0 L521.0,1111.7 L522.0,1112.3 L523.0,1112.9 L524.0,1113.5 L525.0,1114.0 L526.0,1114.5 L527.0,1115.0 L528.0,1115.4 L529.0,1115.8 L530.0,1116.2 L531.0,1116.6 L532.0,1116.9 L533.0,1117.2 L534.0,1117.5 L535.0,1117.7 L536.0,1118.0 L537.0,1118.2 L538.0,1118.4 L539.0,1118.6 L540.0,1118.8 L541.0,1118.9 L542.0,1119.0 L543.0,1119.2 L544.0,1119.3 L545.0,1119.4 L546.0,1119.5 L547.0,1119.6"/>
<path d="M483.0,1119.2 L484.0,1119.1 L485.0,1119.0 L486.0,1118.8 L487.0,1118.7 L488.0,1118.5 L489.0,1118.3 L490.0,1118.0 L491.0,1117.8 L492.0,1117.5 L493.0,1117.1 L494.0,1116.7 L495.0,1116.3 L496.0,1115.9 L497.0,1115.3 L498.0,1114.8 L499.0,1114.1 L500.0,1113.5 L501.0,1112.7 L502.0,1111.9 L503.0,1111.0 L504.0,1110.0 L505.0,1108.9 L506.0,1107.8 L507.0,1106.6 L508.0,1105.3 L509.0,1103.9 L510.0,1102.4 L511.0,1100.8 L512.0,1099.1 L513.0,1097.3 L514.0,1095.4 L515.0,1093.4 L516.0,1091.3 L517.0,1089.2 L518.0,1087.0 L519.0,1084.6 L520.0,1082.2 L521.0,1079.8 L522.0,1077.3 L523.0,1074.7 L524.0,1072.1 L525.0,1069.5 L526.0,1066.8 L527.0,1064.2 L528.0,1061.5 L529.0,1058.9 L530.0,1056.3 L531.0,1053.7 L532.0,1051.3 L533.0,1048.8 L534.0,1046.5 L535.0,1044.3 L536.0,1042.2 L537.0,1040.2 L538.0,1038.4 L539.0,1036.7 L540.0,1035.3 L541.0,1033.9 L542.0,1032.8 L543.0,1031.9 L544.0,1031.1 L545.0,1030.6 L546.0,1030.3 L547.0,1030.2 L548.0,1030.3 L549.0,1030.6 L550.0,1031.2 L551.0,1031.9 L552.0,1032.9 L553.0,1034.0 L554.0,1035.3 L555.0,1036.8 L556.0,1038.5 L557.0,1040.3 L558.0,1042.3 L559.0,1044.4 L560.0,1046.6 L561.0,1049.0 L562.0,1051.4 L563.0,1053.9 L564.0,1056.5 L565.0,1059.1 L566.0,1061.7 L567.0,1064.4 L568.0,1067.0 L569.0,1069.7 L570.0,1072.3 L571.0,1075.0 L572.0,1077.5 L573.0,1080.0 L574.0,1082.5 L575.0,1084.9 L576.0,1087.2 L577.0,1089.5 L578.0,1091.7 L579.0,1093.7 L580.0,1095.7 L581.0,1097.6 L582.0,1099.4 L583.0,1101.1 L584.0,1102.7 L585.0,1104.2 L586.0,1105.6 L587.0,1107.0 L588.0,1108.2 L589.0,1109.4 L590.0,1110.4 L591.0,1111.4 L592.0,1112.3 L593.0,1113.2 L594.0,1113.9 L595.0,1114.6 L596.0,1115.3 L597.0,1115.8 L598.0,1116.4 L599.0,1116.8 L600.0,1117.3 L601.0,1117.7 L602.0,1118.0 L603.0,1118.3 L604.0,1118.6 L605.0,1118.8 L606.0,1119.0 L607.0,1119.2 L608.0,1119.4 L609.0,1119.6 L610.0,1119.7 L611.0,1119.8"/>
<path d="M313.0,1118.4 L314.0,1118.4 L315.0,1118.4 L316.0,1118.4 L317.0,1118.4 L318.0,1118.4 L319.0,1118.4 L320.0,1118.4 L321.0,1118.4 L322.0,1118.4 L323.0,1118.4 L324.0,1118.5 L325.0,1118.5 L326.0,1118.5 L327.0,1118.5 L328.0,1118.5 L329.0,1118.5 L330.0,1118.5 L331.0,1118.5 L332.0,1118.5 L333.0,1118.5 L334.0,1118.5 L335.0,1118.5 L336.0,1118.5 L337.0,1118.5 L338.0,1118.5 L339.0,1118.5 L340.0,1118.5 L341.0,1118.5 L342.0,1118.5 L343.0,1118.5 L344.0,1118.5 L345.0,1118.5 L346.0,1118.5 L347.0,1118.5 L348.0,1118.5 L349.0,1118.5 L350.0,1118.5 L351.0,1118.4 L352.0,1118.4 L353.0,1118.4 L354.0,1118.4 L355.0,1118.4 L356.0,1118.4 L357.0,1118.4 L358.0,1118.4 L359.0,1118.4 L360.0,1118.4 L361.0,1118.4 L362.0,1118.4 L363.0,1118.4 L364.0,1118.4 L365.0,1118.4 L366.0,1118.4 L367.0,1118.4 L368.0,1118.4 L369.0,1118.4 L370.0,1118.4 L371.0,1118.4 L372.0,1118.4 L373.0,1118.4 L374.0,1118.4 L375.0,1118.4 L376.0,1118.4 L377.0,1118.4 L378.0,1118.4 L379.0,1118.4 L380.0,1118.4 L381.0,1118.4 L382.0,1118.4 L383.0,1118.4 L384.0,1118.4 L385.0,1118.4 L386.0,1118.4 L387.0,1118.4 L388.0,1118.4 L389.0,1118.4 L390.0,1118.4 L391.0,1118.4 L392.0,1118.4 L393.0,1118.3 L394.0,1118.3 L395.0,1118.3 L396.0,1118.3 L397.0,1118.3 L398.0,1118.3 L399.0,1118.3 L400.0,1118.3 L401.0,1118.3 L402.0,1118.3 L403.0,1118.3 L404.0,1118.3 L405.0,1118.3 L406.0,1118.3 L407.0,1118.3 L408.0,1118.3 L409.0,1118.3 L410.0,1118.3 L411.0,1118.2 L412.0,1118.2 L413.0,1118.2 L414.0,1118.2 L415.0,1118.2 L416.0,1118.2 L417.0,1118.2 L418.0,1118.2 L419.0,1118.2 L420.0,1118.2 L421.0,1118.2 L422.0,1118.2 L423.0,1118.2 L424.0,1118.1 L425.0,1118.1 L426.0,1118.1 L427.0,1118.1 L428.0,1118.1 L429.0,1118.1 L430.0,1118.1 L431.0,1118.1 L432.0,1118.1 L433.0,1118.1 L434.0,1118.0 L435.0,1118.0 L436.0,1118.0 L437.0,1118.0 L438.0,1118.0 L439.0,1118.0 L440.0,1118.0 L441.0,1118.0 L442.0,1117.9 L443.0,1117.9 L444.0,1117.9 L445.0,1117.9 L446.0,1117.9 L447.0,1117.9 L448.0,1117.8 L449.0,1117.8 L450.0,1117.8 L451.0,1117.8 L452.0,1117.8 L453.0,1117.8 L454.0,1117.7 L455.0,1117.7 L456.0,1117.7 L457.0,1117.7 L458.0,1117.7 L459.0,1117.7 L460.0,1117.6 L461.0,1117.6 L462.0,1117.6 L463.0,1117.6 L464.0,1117.5 L465.0,1117.5 L466.0,1117.5 L467.0,1117.5 L468.0,1117.5 L469.0,1117.4 L470.0,1117.4 L471.0,1117.4 L472.0,1117.3 L473.0,1117.3 L474.0,1117.3 L475.0,1117.3 L476.0,1117.2 L477.0,1117.2 L478.0,1117.2 L479.0,1117.1 L480.0,1117.1 L481.0,1117.1 L482.0,1117.0 L483.0,1117.0 L484.0,1117.0 L485.0,1116.9 L486.0,1116.9 L487.0,1116.9 L488.0,1116.8 L489.0,1116.8 L490.0,1116.7 L491.0,1116.7 L492.0,1116.7 L493.0,1116.6 L494.0,1116.6 L495.0,1116.5 L496.0,1116.5 L497.0,1116.4 L498.0,1116.4 L499.0,1116.3 L500.0,1116.3 L501.0,1116.2 L502.0,1116.2 L503.0,1116.1 L504.0,1116.1 L505.0,1116.0 L506.0,1115.9 L507.0,1115.9 L508.0,1115.8 L509.0,1115.7 L510.0,1115.7 L511.0,1115.6 L512.0,1115.5 L513.0,1115.5 L514.0,1115.4 L515.0,1115.3 L516.0,1115.2 L517.0,1115.2 L518.0,1115.1 L519.0,1115.0 L520.0,1114.9 L521.0,1114.8 L522.0,1114.7 L523.0,1114.6 L524.0,1114.5 L525.0,1114.4 L526.0,1114.3 L527.0,1114.2 L528.0,1114.1 L529.0,1114.0 L530.0,1113.9 L531.0,1113.7 L532.0,1113.6 L533.0,1113.5 L534.0,1113.3 L535.0,1113.2 L536.0,1113.0 L537.0,1112.9 L538.0,1112.7 L539.0,1112.6 L540.0,1112.4 L541.0,1112.2 L542.0,1112.1 L543.0,1111.9 L544.0,1111.7 L545.0,1111.5 L546.0,1111.3 L547.0,1111.0 L548.0,1110.8 L549.0,1110.6 L550.0,1110.3 L551.0,1110.0 L552.0,1109.8 L553.0,1109.4 L554.0,1109.1 L555.0,1108.8 L556.0,1108.4 L557.0,1108.0 L558.0,1107.6 L559.0,1107.1 L560.0,1106.6 L561.0,1106.1 L562.0,1105.5 L563.0,1104.9 L564.0,1104.1 L565.0,1103.4 L566.0,1102.5 L567.0,1101.6 L568.0,1100.5 L569.0,1099.4 L570.0,1098.1 L571.0,1096.7 L572.0,1095.1 L573.0,1093.4 L574.0,1091.5 L575.0,1089.3 L576.0,1087.0 L577.0,1084.4 L578.0,1081.5 L579.0,1078.4 L580.0,1074.9 L581.0,1071.1 L582.0,1067.0 L583.0,1062.4 L584.0,1057.5 L585.0,1052.1 L586.0,1046.2 L587.0,1039.9 L588.0,1033.1 L589.0,1025.7 L590.0,1017.9 L591.0,1009.4 L592.0,1000.4 L593.0,990.9 L594.0,980.7 L595.0,970.0 L596.0,958.7 L597.0,946.9 L598.0,934.5 L599.0,921.7 L600.0,908.3 L601.0,894.5 L602.0,880.3 L603.0,865.7 L604.0,850.8 L605.0,835.7 L606.0,820.4 L607.0,805.0 L608.0,789.6 L609.0,774.3 L610.0,759.2 L611.0,744.3 L612.0,729.8 L613.0,715.9 L614.0,702.6 L615.0,690.0 L616.0,678.2 L617.0,667.5 L618.0,657.9 L619.0,649.4 L620.0,642.3 L621.0,636.6 L622.0,632.4 L623.0,629.7 L624.0,628.6 L625.0,629.1 L626.0,631.1 L627.0,634.6 L628.0,639.6 L629.0,646.0 L630.0,653.7 L631.0,662.7 L632.0,672.9 L633.0,684.1 L634.0,696.2 L635.0,709.2 L636.0,723.0 L637.0,737.3 L638.0,752.1 L639.0,767.3 L640.0,782.8 L641.0,798.5 L642.0,814.2 L643.0,829.9 L644.0,845.6 L645.0,861.0 L646.0,876.2 L647.0,891.0 L648.0,905.5 L649.0,919.6 L650.0,933.1 L651.0,946.2 L652.0,958.7 L653.0,970.6 L654.0,982.0 L655.0,992.7 L656.0,1002.9 L657.0,1012.4 L658.0,1021.4 L659.0,1029.7 L660.0,1037.5 L661.0,1044.7 L662.0,1051.4 L663.0,1057.6 L664.0,1063.2 L665.0,1068.4 L666.0,1073.2 L667.0,1077.5 L668.0,1081.4 L669.0,1085.0 L670.0,1088.2 L671.0,1091.1 L672.0,1093.7 L673.0,1096.1 L674.0,1098.2 L675.0,1100.1 L676.0,1101.7 L677.0,1103.3 L678.0,1104.6 L679.0,1105.8 L680.0,1106.9 L681.0,1107.8 L682.0,1108.7 L683.0,1109.4 L684.0,1110.1 L685.0,1110.7 L686.0,1111.3 L687.0,1111.7 L688.0,1112.2 L689.0,1112.6 L690.0,1112.9 L691.0,1113.3 L692.0,1113.6 L693.0,1113.8 L694.0,1114.1 L695.0,1114.3 L696.0,1114.5 L697.0,1114.7 L698.0,1114.9 L699.0,1115.1 L700.0,1115.3 L701.0,1115.4 L702.0,1115.6 L703.0,1115.7 L704.0,1115.8 L705.0,1116.0 L706.0,1116.1 L707.0,1116.2 L708.0,1116.3 L709.0,1116.4 L710.0,1116.5 L711.0,1116.6 L712.0,1116.7 L713.0,1116.8 L714.0,1116.9 L715.0,1117.0 L716.0,1117.1 L717.0,1117.2 L718.0,1117.3 L719.0,1117.4 L720.0,1117.4 L721.0,1117.5 L722.0,1117.6 L723.0,1117.7 L724.0,1117.7 L725.0,1117.8 L726.0,1117.9 L727.0,1117.9 L728.0,1118.0 L729.0,1118.0 L730.0,1118.1 L731.0,1118.2 L732.0,1118.2 L733.0,1118.3 L734.0,1118.3 L735.0,1118.4 L736.0,1118.4 L737.0,1118.5 L738.0,1118.5 L739.0,1118.6 L740.0,1118.6 L741.0,1118.7 L742.0,1118.7 L743.0,1118.8 L744.0,1118.8 L745.0,1118.9 L746.0,1118.9 L747.0,1118.9 L748.0,1119.0 L749.0,1119.0 L750.0,1119.1 L751.0,1119.1 L752.0,1119.1 L753.0,1119.2 L754.0,1119.2 L755.0,1119.2 L756.0,1119.3 L757.0,1119.3 L758.0,1119.3 L759.0,1119.4 L760.0,1119.4 L761.0,1119.4 L762.0,1119.5 L763.0,1119.5 L764.0,1119.5 L765.0,1119.5 L766.0,1119.6 L767.0,1119.6 L768.0,1119.6 L769.0,1119.7 L770.0,1119.7 L771.0,1119.7"/>
<path d="M123.0,1118.1 L771.0,1121.3"/>
<path d="M123.0,1116.8 L124.0,1116.8 L125.0,1116.8 L126.0,1116.8 L127.0,1116.8 L128.0,1116.8 L129.0,1116.8 L130.0,1116.8 L131.0,1116.7 L132.0,1116.7 L133.0,1116.7 L134.0,1116.7 L135.0,1116.7 L136.0,1116.7 L137.0,1116.7 L138.0,1116.7 L139.0,1116.7 L140.0,1116.7 L141.0,1116.7 L142.0,1116.6 L143.0,1116.6 L144.0,1116.6 L145.0,1116.6 L146.0,1116.6 L147.0,1116.6 L148.0,1116.6 L149.0,1116.6 L150.0,1116.5 L151.0,1116.5 L152.0,1116.5 L153.0,1116.5 L154.0,1116.5 L155.0,1116.5 L156.0,1116.4 L157.0,1116.4 L158.0,1116.4 L159.0,1116.4 L160.0,1116.4 L161.0,1116.3 L162.0,1116.3 L163.0,1116.3 L164.0,1116.3 L165.0,1116.2 L166.0,1116.2 L167.0,1116.2 L168.0,1116.1 L169.0,1116.1 L170.0,1116.1 L171.0,1116.0 L172.0,1116.0 L173.0,1115.9 L174.0,1115.9 L175.0,1115.8 L176.0,1115.8 L177.0,1115.7 L178.0,1115.7 L179.0,1115.6 L180.0,1115.6 L181.0,1115.5 L182.0,1115.4 L183.0,1115.3 L184.0,1115.3 L185.0,1115.2 L186.0,1115.1 L187.0,1115.0 L188.0,1114.9 L189.0,1114.8 L190.0,1114.7 L191.0,1114.5 L192.0,1114.4 L193.0,1114.3 L194.0,1114.1 L195.0,1114.0 L196.0,1113.8 L197.0,1113.6 L198.0,1113.5 L199.0,1113.3 L200.0,1113.1 L201.0,1112.8 L202.0,1112.6 L203.0,1112.4 L204.0,1112.1 L205.0,1111.9 L206.0,1111.6 L207.0,1111.3 L208.0,1111.0 L209.0,1110.6 L210.0,1110.3 L211.0,1109.9 L212.0,1109.5 L213.0,1109.1 L214.0,1108.7 L215.0,1108.2 L216.0,1107.8 L217.0,1107.3 L218.0,1106.8 L219.0,1106.2 L220.0,1105.6 L221.0,1105.0 L222.0,1104.4 L223.0,1103.7 L224.0,1103.1 L225.0,1102.3 L226.0,1101.6 L227.0,1100.8 L228.0,1100.0 L229.0,1099.1 L230.0,1098.2 L231.0,1097.3 L232.0,1096.3 L233.0,1095.3 L234.0,1094.3 L235.0,1093.2 L236.0,1092.0 L237.0,1090.9 L238.0,1089.6 L239.0,1088.4 L240.0,1087.0 L241.0,1085.7 L242.0,1084.3 L243.0,1082.8 L244.0,1081.3 L245.0,1079.7 L246.0,1078.1 L247.0,1076.5 L248.0,1074.7 L249.0,1073.0 L250.0,1071.2 L251.0,1069.4 L252.0,1067.6 L253.0,1065.9 L254.0,1064.0 L255.0,1062.1 L256.0,1060.2 L257.0,1058.1 L258.0,1056.0 L259.0,1053.9 L260.0,1051.6 L261.0,1049.3 L262.0,1047.0 L263.0,1044.6 L264.0,1042.1 L265.0,1039.7 L266.0,1037.2 L267.0,1034.6 L268.0,1032.0 L269.0,1029.4 L270.0,1026.7 L271.0,1023.9 L272.0,1021.1 L273.0,1018.3 L274.0,1015.3 L275.0,1012.4 L276.0,1009.4 L277.0,1006.3 L278.0,1003.2 L279.0,1000.1 L280.0,996.9 L281.0,993.6 L282.0,990.4 L283.0,987.0 L284.0,983.7 L285.0,980.2 L286.0,976.8 L287.0,973.2 L288.0,969.5 L289.0,965.8"/>
<path d="M361.0,921.1 L362.0,922.0 L363.0,922.8 L364.0,923.6 L365.0,924.4 L366.0,925.1 L367.0,925.9 L368.0,926.5 L369.0,927.2 L370.0,927.7 L371.0,928.2 L372.0,928.7 L373.0,929.1 L374.0,929.5 L375.0,929.8 L376.0,930.0 L377.0,930.2 L378.0,930.3 L379.0,930.2 L380.0,930.0 L381.0,929.8 L382.0,929.4 L383.0,928.9 L384.0,928.3 L385.0,927.6 L386.0,926.9 L387.0,926.1 L388.0,925.3 L389.0,924.5 L390.0,923.7 L391.0,922.9 L392.0,922.2 L393.0,921.4 L394.0,920.8 L395.0,920.1 L396.0,919.6 L397.0,919.1 L398.0,918.7 L399.0,918.4 L400.0,918.1 L401.0,918.0 L402.0,917.8 L403.0,917.8 L404.0,917.8 L405.0,918.0 L406.0,918.3 L407.0,918.7 L408.0,919.3 L409.0,920.0 L410.0,920.9 L411.0,921.9 L412.0,923.1 L413.0,924.4 L414.0,925.9 L415.0,927.5 L416.0,929.2 L417.0,931.1 L418.0,933.2 L419.0,935.4 L420.0,937.7 L421.0,940.1 L422.0,942.7 L423.0,945.3 L424.0,948.1 L425.0,950.9 L426.0,953.7 L427.0,956.4 L428.0,959.2 L429.0,962.0 L430.0,964.9 L431.0,967.8 L432.0,970.7 L433.0,973.7 L434.0,976.7 L435.0,979.6 L436.0,982.6 L437.0,985.6 L438.0,988.6 L439.0,991.5 L440.0,994.4 L441.0,997.2 L442.0,1000.0 L443.0,1002.6 L444.0,1005.3 L445.0,1007.8 L446.0,1010.3 L447.0,1012.6 L448.0,1014.9 L449.0,1017.2 L450.0,1019.3 L451.0,1021.4 L452.0,1023.4 L453.0,1025.4 L454.0,1027.3 L455.0,1029.0 L456.0,1030.7 L457.0,1032.4 L458.0,1033.9 L459.0,1035.4 L460.0,1036.8 L461.0,1038.1 L462.0,1039.4 L463.0,1040.7 L464.0,1041.9 L465.0,1043.0 L466.0,1044.2 L467.0,1045.3 L468.0,1046.3 L469.0,1047.4 L470.0,1048.4 L471.0,1049.4 L472.0,1050.4 L473.0,1051.4 L474.0,1052.4 L475.0,1053.4 L476.0,1054.4 L477.0,1055.4 L478.0,1056.4 L479.0,1057.4 L480.0,1058.4 L481.0,1059.4 L482.0,1060.4 L483.0,1061.3 L484.0,1062.3 L485.0,1063.3 L486.0,1064.3 L487.0,1065.2 L488.0,1066.2 L489.0,1067.2 L490.0,1068.2 L491.0,1069.1 L492.0,1070.1 L493.0,1071.0 L494.0,1071.9 L495.0,1072.7 L496.0,1073.5 L497.0,1074.3 L498.0,1075.0 L499.0,1075.6 L500.0,1076.2 L501.0,1076.7 L502.0,1077.1 L503.0,1077.5 L504.0,1077.7 L505.0,1077.8 L506.0,1077.9 L507.0,1077.8 L508.0,1077.7 L509.0,1077.4 L510.0,1077.0 L511.0,1076.5 L512.0,1075.9 L513.0,1075.1 L514.0,1074.2 L515.0,1073.1 L516.0,1072.0 L517.0,1070.7 L518.0,1069.3 L519.0,1067.7 L520.0,1066.1 L521.0,1064.3 L522.0,1062.5 L523.0,1060.5 L524.0,1058.5 L525.0,1056.4 L526.0,1054.3 L527.0,1052.1 L528.0,1049.8 L529.0,1047.4 L530.0,1045.1 L531.0,1042.8 L532.0,1040.5 L533.0,1038.3 L534.0,1036.1 L535.0,1034.0 L536.0,1032.0 L537.0,1030.1 L538.0,1028.3 L539.0,1026.7 L540.0,1025.2 L541.0,1023.8 L542.0,1022.6 L543.0,1021.6 L544.0,1020.8 L545.0,1020.2 L546.0,1019.8 L547.0,1019.5 L548.0,1019.5 L549.0,1019.6 L550.0,1020.0 L551.0,1020.5 L552.0,1021.2 L553.0,1022.1 L554.0,1023.1 L555.0,1024.3 L556.0,1025.7 L557.0,1027.1 L558.0,1028.7 L559.0,1030.4 L560.0,1032.1 L561.0,1033.7 L562.0,1035.5 L563.0,1037.2 L564.0,1039.0 L565.0,1040.7 L566.0,1042.4 L567.0,1044.0 L568.0,1045.6 L569.0,1047.0 L570.0,1048.3 L571.0,1049.4 L572.0,1050.4 L573.0,1051.2 L574.0,1051.8 L575.0,1052.2 L576.0,1052.4 L577.0,1052.3 L578.0,1051.8 L579.0,1051.0 L580.0,1049.6 L581.0,1047.7 L582.0,1045.3 L583.0,1042.5 L584.0,1039.2 L585.0,1035.3 L586.0,1030.9 L587.0,1025.9 L588.0,1020.3 L589.0,1014.1 L590.0,1007.2 L591.0,999.8 L592.0,991.7 L593.0,983.0 L594.0,973.6 L595.0,963.6 L596.0,952.9 L597.0,941.7 L598.0,929.9 L599.0,917.5 L600.0,904.5 L601.0,891.1 L602.0,877.2 L603.0,862.9 L604.0,848.3 L605.0,833.5 L606.0,818.4 L607.0,803.2 L608.0,788.0 L609.0,772.8 L610.0,757.8 L611.0,743.1 L612.0,728.7 L613.0,714.8 L614.0,701.6 L615.0,689.1 L616.0,677.4 L617.0,666.7 L618.0,657.1 L619.0,648.7 L620.0,641.6 L621.0,636.0 L622.0,631.8 L623.0,629.1 L624.0,628.0 L625.0,628.5 L626.0,630.5 L627.0,634.1 L628.0,639.1 L629.0,645.5 L630.0,653.2 L631.0,662.2 L632.0,672.4 L633.0,683.6 L634.0,695.8 L635.0,708.8 L636.0,722.5 L637.0,736.8 L638.0,751.7 L639.0,766.9 L640.0,782.4 L641.0,798.0 L642.0,813.8 L643.0,829.5 L644.0,845.1 L645.0,860.6 L646.0,875.7 L647.0,890.6 L648.0,905.1 L649.0,919.1 L650.0,932.7 L651.0,945.8 L652.0,958.3 L653.0,970.2 L654.0,981.6 L655.0,992.3 L656.0,1002.5 L657.0,1012.0 L658.0,1021.0 L659.0,1029.3 L660.0,1037.1 L661.0,1044.3 L662.0,1051.0 L663.0,1057.2 L664.0,1062.8 L665.0,1068.0 L666.0,1072.8 L667.0,1077.1 L668.0,1081.0 L669.0,1084.6 L670.0,1087.8 L671.0,1090.7 L672.0,1093.3 L673.0,1095.7 L674.0,1097.8 L675.0,1099.7 L676.0,1101.4 L677.0,1102.9 L678.0,1104.2 L679.0,1105.4 L680.0,1106.5 L681.0,1107.5 L682.0,1108.3 L683.0,1109.1 L684.0,1109.8 L685.0,1110.4 L686.0,1110.9 L687.0,1111.4 L688.0,1111.8 L689.0,1112.2 L690.0,1112.6 L691.0,1112.9 L692.0,1113.2 L693.0,1113.5 L694.0,1113.8 L695.0,1114.0 L696.0,1114.2 L697.0,1114.4 L698.0,1114.6 L699.0,1114.8 L700.0,1114.9 L701.0,1115.1 L702.0,1115.2 L703.0,1115.4 L704.0,1115.5 L705.0,1115.7 L706.0,1115.8 L707.0,1115.9 L708.0,1116.0 L709.0,1116.1 L710.0,1116.2 L711.0,1116.3 L712.0,1116.4 L713.0,1116.5 L714.0,1116.6 L715.0,1116.7 L716.0,1116.8 L717.0,1116.9 L718.0,1117.0 L719.0,1117.1 L720.0,1117.1 L721.0,1117.2 L722.0,1117.3 L723.0,1117.4 L724.0,1117.4 L725.0,1117.5 L726.0,1117.6 L727.0,1117.6 L728.0,1117.7 L729.0,1117.8 L730.0,1117.8 L731.0,1117.9 L732.0,1117.9 L733.0,1118.0 L734.0,1118.1 L735.0,1118.1 L736.0,1118.2 L737.0,1118.2 L738.0,1118.3 L739.0,1118.3 L740.0,1118.4 L741.0,1118.4 L742.0,1118.5 L743.0,1118.5 L744.0,1118.6 L745.0,1118.6 L746.0,1118.6 L747.0,1118.7 L748.0,1118.7 L749.0,1118.8 L750.0,1118.8 L751.0,1118.8 L752.0,1118.9 L753.0,1118.9 L754.0,1119.0 L755.0,1119.0 L756.0,1119.0 L757.0,1119.1 L758.0,1119.1 L759.0,1119.1 L760.0,1119.2 L761.0,1119.2 L762.0,1119.2 L763.0,1119.3 L764.0,1119.3 L765.0,1119.3 L766.0,1119.3 L767.0,1119.4 L768.0,1119.4 L769.0,1119.4 L770.0,1119.5 L771.0,1119.5"/>
</g>
<g class="dots"><circle cx="122.5" cy="537.0" r="3.65"/><circle cx="125.8" cy="537.1" r="3.65"/><circle cx="129.1" cy="536.8" r="3.65"/><circle cx="132.4" cy="536.5" r="3.65"/><circle cx="135.7" cy="536.7" r="3.65"/><circle cx="139.0" cy="536.4" r="3.65"/><circle cx="142.3" cy="536.9" r="3.65"/><circle cx="145.6" cy="537.5" r="3.65"/><circle cx="148.9" cy="536.8" r="3.65"/><circle cx="152.2" cy="537.0" r="3.65"/><circle cx="155.5" cy="538.1" r="3.65"/><circle cx="158.8" cy="538.6" r="3.65"/><circle cx="162.1" cy="538.9" r="3.65"/><circle cx="165.4" cy="538.6" r="3.65"/><circle cx="168.7" cy="538.7" r="3.65"/><circle cx="172.0" cy="538.6" r="3.65"/><circle cx="175.3" cy="537.2" r="3.65"/><circle cx="178.6" cy="537.0" r="3.65"/><circle cx="181.9" cy="535.7" r="3.65"/><circle cx="185.2" cy="535.3" r="3.65"/><circle cx="188.5" cy="534.4" r="3.65"/><circle cx="191.8" cy="534.4" r="3.65"/><circle cx="195.1" cy="533.1" r="3.65"/><circle cx="198.4" cy="532.8" r="3.65"/><circle cx="201.7" cy="531.6" r="3.65"/><circle cx="205.0" cy="530.0" r="3.65"/><circle cx="208.3" cy="527.4" r="3.65"/><circle cx="211.6" cy="526.5" r="3.65"/><circle cx="214.9" cy="524.7" r="3.65"/><circle cx="218.2" cy="522.5" r="3.65"/><circle cx="221.5" cy="519.1" r="3.65"/><circle cx="224.8" cy="516.6" r="3.65"/><circle cx="228.1" cy="512.9" r="3.65"/><circle cx="231.4" cy="509.2" r="3.65"/><circle cx="234.7" cy="505.9" r="3.65"/><circle cx="238.0" cy="500.5" r="3.65"/><circle cx="241.3" cy="495.9" r="3.65"/><circle cx="244.6" cy="491.0" r="3.65"/><circle cx="247.9" cy="484.7" r="3.65"/><circle cx="251.2" cy="478.7" r="3.65"/><circle cx="254.5" cy="472.0" r="3.65"/><circle cx="257.8" cy="464.3" r="3.65"/><circle cx="261.1" cy="455.4" r="3.65"/><circle cx="264.4" cy="447.0" r="3.65"/><circle cx="267.7" cy="438.1" r="3.65"/><circle cx="271.0" cy="427.1" r="3.65"/><circle cx="274.3" cy="418.3" r="3.65"/><circle cx="277.6" cy="407.9" r="3.62"/><circle cx="280.9" cy="397.0" r="3.63"/><circle cx="284.2" cy="387.2" r="3.61"/><circle cx="287.5" cy="375.4" r="3.56"/><circle cx="290.8" cy="363.2" r="3.59"/><circle cx="294.1" cy="352.8" r="3.63"/><circle cx="297.4" cy="342.7" r="3.64"/><circle cx="300.7" cy="332.7" r="3.65"/><circle cx="304.0" cy="324.3" r="3.65"/><circle cx="307.3" cy="316.2" r="3.65"/><circle cx="310.6" cy="309.9" r="3.65"/><circle cx="313.9" cy="305.3" r="3.65"/><circle cx="317.2" cy="301.1" r="3.65"/><circle cx="320.5" cy="299.8" r="3.65"/><circle cx="323.8" cy="299.2" r="3.65"/><circle cx="327.1" cy="300.4" r="3.65"/><circle cx="330.4" cy="302.5" r="3.65"/><circle cx="333.7" cy="307.3" r="3.65"/><circle cx="337.0" cy="313.0" r="3.65"/><circle cx="340.3" cy="319.3" r="3.65"/><circle cx="343.6" cy="325.5" r="3.65"/><circle cx="346.9" cy="331.0" r="3.65"/><circle cx="350.2" cy="338.8" r="3.65"/><circle cx="353.5" cy="347.5" r="3.65"/><circle cx="356.8" cy="353.6" r="3.65"/><circle cx="360.1" cy="360.2" r="3.65"/><circle cx="363.4" cy="364.9" r="3.65"/><circle cx="366.7" cy="368.8" r="3.65"/><circle cx="370.0" cy="370.9" r="3.65"/><circle cx="373.3" cy="372.0" r="3.65"/><circle cx="376.6" cy="372.6" r="3.65"/><circle cx="379.9" cy="372.3" r="3.65"/><circle cx="383.2" cy="371.9" r="3.65"/><circle cx="386.5" cy="369.3" r="3.65"/><circle cx="389.8" cy="367.2" r="3.65"/><circle cx="393.1" cy="365.2" r="3.65"/><circle cx="396.4" cy="363.1" r="3.65"/><circle cx="399.7" cy="362.3" r="3.65"/><circle cx="403.0" cy="362.6" r="3.65"/><circle cx="406.3" cy="365.1" r="3.65"/><circle cx="409.6" cy="368.4" r="3.65"/><circle cx="412.9" cy="373.9" r="3.65"/><circle cx="416.2" cy="379.4" r="3.65"/><circle cx="419.5" cy="385.3" r="3.65"/><circle cx="422.8" cy="392.2" r="3.65"/><circle cx="426.1" cy="398.3" r="3.65"/><circle cx="429.4" cy="405.3" r="3.65"/><circle cx="432.7" cy="410.6" r="3.65"/><circle cx="436.0" cy="416.1" r="3.65"/><circle cx="439.3" cy="419.5" r="3.65"/><circle cx="442.6" cy="423.5" r="3.65"/><circle cx="445.9" cy="424.8" r="3.65"/><circle cx="449.2" cy="425.7" r="3.65"/><circle cx="452.5" cy="426.0" r="3.65"/><circle cx="455.8" cy="424.2" r="3.65"/><circle cx="459.1" cy="422.7" r="3.65"/><circle cx="462.4" cy="421.7" r="3.65"/><circle cx="465.7" cy="419.0" r="3.65"/><circle cx="469.0" cy="418.7" r="3.65"/><circle cx="472.3" cy="420.0" r="3.65"/><circle cx="475.6" cy="422.5" r="3.65"/><circle cx="478.9" cy="426.2" r="3.65"/><circle cx="482.2" cy="431.7" r="3.65"/><circle cx="485.5" cy="438.9" r="3.65"/><circle cx="488.8" cy="446.5" r="3.65"/><circle cx="492.1" cy="453.9" r="3.65"/><circle cx="495.4" cy="462.3" r="3.65"/><circle cx="498.7" cy="469.9" r="3.65"/><circle cx="502.0" cy="475.9" r="3.65"/><circle cx="505.3" cy="481.8" r="3.65"/><circle cx="508.6" cy="484.9" r="3.65"/><circle cx="511.9" cy="487.7" r="3.65"/><circle cx="515.2" cy="487.6" r="3.65"/><circle cx="518.5" cy="486.2" r="3.65"/><circle cx="521.8" cy="483.2" r="3.65"/><circle cx="525.1" cy="479.7" r="3.65"/><circle cx="528.4" cy="474.5" r="3.65"/><circle cx="531.7" cy="470.3" r="3.65"/><circle cx="535.0" cy="466.7" r="3.65"/><circle cx="538.3" cy="461.9" r="3.65"/><circle cx="541.6" cy="460.6" r="3.65"/><circle cx="544.9" cy="458.1" r="3.65"/><circle cx="548.2" cy="459.2" r="3.65"/><circle cx="551.5" cy="460.0" r="3.65"/><circle cx="554.8" cy="463.4" r="3.65"/><circle cx="558.1" cy="466.9" r="3.65"/><circle cx="561.4" cy="470.9" r="3.65"/><circle cx="564.7" cy="477.4" r="3.65"/><circle cx="568.0" cy="482.7" r="3.65"/><circle cx="571.3" cy="486.3" r="3.65"/><circle cx="574.6" cy="488.3" r="3.65"/><circle cx="577.9" cy="487.7" r="3.65"/><circle cx="581.2" cy="483.6" r="3.65"/><circle cx="584.5" cy="476.8" r="3.63"/><circle cx="587.8" cy="463.1" r="3.39"/><circle cx="591.1" cy="445.4" r="3.20"/><circle cx="594.4" cy="423.5" r="3.05"/><circle cx="597.7" cy="398.1" r="3.05"/><circle cx="601.0" cy="366.3" r="3.05"/><circle cx="604.3" cy="328.6" r="3.05"/><circle cx="607.6" cy="282.7" r="3.05"/><circle cx="610.9" cy="234.7" r="3.05"/><circle cx="614.2" cy="187.0" r="3.05"/><circle cx="617.5" cy="145.3" r="3.05"/><circle cx="620.8" cy="115.2" r="3.08"/><circle cx="624.1" cy="100.2" r="3.65"/><circle cx="627.4" cy="103.5" r="3.57"/><circle cx="630.7" cy="123.3" r="3.05"/><circle cx="634.0" cy="157.2" r="3.05"/><circle cx="637.3" cy="199.7" r="3.05"/><circle cx="640.6" cy="247.5" r="3.05"/><circle cx="643.9" cy="296.3" r="3.05"/><circle cx="647.2" cy="339.5" r="3.05"/><circle cx="650.5" cy="378.2" r="3.05"/><circle cx="653.8" cy="411.8" r="3.05"/><circle cx="657.1" cy="439.5" r="3.05"/><circle cx="660.4" cy="460.0" r="3.24"/><circle cx="663.7" cy="477.5" r="3.41"/><circle cx="667.0" cy="490.5" r="3.58"/><circle cx="670.3" cy="500.3" r="3.65"/><circle cx="673.6" cy="509.2" r="3.65"/><circle cx="676.9" cy="514.7" r="3.65"/><circle cx="680.2" cy="519.0" r="3.65"/><circle cx="683.5" cy="521.9" r="3.65"/><circle cx="686.8" cy="525.0" r="3.65"/><circle cx="690.1" cy="526.6" r="3.65"/><circle cx="693.4" cy="528.2" r="3.65"/><circle cx="696.7" cy="528.9" r="3.65"/><circle cx="700.0" cy="529.7" r="3.65"/><circle cx="703.3" cy="531.7" r="3.65"/><circle cx="706.6" cy="531.5" r="3.65"/><circle cx="709.9" cy="532.6" r="3.65"/><circle cx="713.2" cy="533.0" r="3.65"/><circle cx="716.5" cy="533.3" r="3.65"/><circle cx="719.8" cy="533.7" r="3.65"/><circle cx="723.1" cy="534.6" r="3.65"/><circle cx="726.4" cy="534.4" r="3.65"/><circle cx="729.7" cy="534.6" r="3.65"/><circle cx="733.0" cy="534.9" r="3.65"/><circle cx="736.3" cy="535.5" r="3.65"/><circle cx="739.6" cy="535.4" r="3.65"/><circle cx="742.9" cy="535.4" r="3.65"/><circle cx="746.2" cy="535.1" r="3.65"/><circle cx="749.5" cy="535.0" r="3.65"/><circle cx="752.8" cy="536.3" r="3.65"/><circle cx="756.1" cy="536.6" r="3.65"/><circle cx="759.4" cy="536.4" r="3.65"/><circle cx="762.7" cy="537.0" r="3.65"/><circle cx="766.0" cy="537.4" r="3.65"/><circle cx="769.3" cy="537.8" r="3.65"/><circle cx="772.6" cy="538.2" r="3.65"/><circle cx="775.9" cy="538.0" r="3.65"/><circle cx="779.2" cy="539.4" r="3.65"/><circle cx="782.5" cy="538.5" r="3.65"/></g>
<g class="dots"><circle cx="123.0" cy="1117.2" r="3.65"/><circle cx="126.3" cy="1117.0" r="3.65"/><circle cx="129.6" cy="1117.2" r="3.65"/><circle cx="132.9" cy="1117.6" r="3.65"/><circle cx="136.2" cy="1117.4" r="3.65"/><circle cx="139.5" cy="1116.2" r="3.65"/><circle cx="142.8" cy="1115.9" r="3.65"/><circle cx="146.1" cy="1117.0" r="3.65"/><circle cx="149.4" cy="1116.3" r="3.65"/><circle cx="152.7" cy="1116.9" r="3.65"/><circle cx="156.0" cy="1117.7" r="3.65"/><circle cx="159.3" cy="1116.9" r="3.65"/><circle cx="162.6" cy="1117.1" r="3.65"/><circle cx="165.9" cy="1118.3" r="3.65"/><circle cx="169.2" cy="1117.9" r="3.65"/><circle cx="172.5" cy="1117.2" r="3.65"/><circle cx="175.8" cy="1116.8" r="3.65"/><circle cx="179.1" cy="1115.8" r="3.65"/><circle cx="182.4" cy="1115.0" r="3.65"/><circle cx="185.7" cy="1115.1" r="3.65"/><circle cx="189.0" cy="1114.3" r="3.65"/><circle cx="192.3" cy="1113.4" r="3.65"/><circle cx="195.6" cy="1113.7" r="3.65"/><circle cx="198.9" cy="1112.8" r="3.65"/><circle cx="202.2" cy="1112.2" r="3.65"/><circle cx="205.5" cy="1110.6" r="3.65"/><circle cx="208.8" cy="1109.6" r="3.65"/><circle cx="212.1" cy="1108.0" r="3.65"/><circle cx="215.4" cy="1106.4" r="3.65"/><circle cx="218.7" cy="1105.1" r="3.65"/><circle cx="222.0" cy="1102.7" r="3.65"/><circle cx="225.3" cy="1101.0" r="3.65"/><circle cx="228.6" cy="1098.6" r="3.65"/><circle cx="231.9" cy="1096.7" r="3.65"/><circle cx="235.2" cy="1092.3" r="3.65"/><circle cx="238.5" cy="1090.1" r="3.65"/><circle cx="241.8" cy="1085.9" r="3.65"/><circle cx="245.1" cy="1081.7" r="3.65"/><circle cx="248.4" cy="1076.2" r="3.65"/><circle cx="251.7" cy="1071.3" r="3.65"/><circle cx="255.0" cy="1065.8" r="3.65"/><circle cx="258.3" cy="1058.7" r="3.65"/><circle cx="261.6" cy="1051.2" r="3.65"/><circle cx="264.9" cy="1043.1" r="3.65"/><circle cx="268.2" cy="1035.3" r="3.65"/><circle cx="271.5" cy="1025.8" r="3.64"/><circle cx="274.8" cy="1015.3" r="3.65"/><circle cx="278.1" cy="1005.9" r="3.63"/><circle cx="281.4" cy="994.8" r="3.58"/><circle cx="284.7" cy="983.1" r="3.60"/><circle cx="288.0" cy="972.8" r="3.62"/><circle cx="291.3" cy="962.1" r="3.59"/><circle cx="294.6" cy="950.3" r="3.58"/><circle cx="297.9" cy="939.1" r="3.61"/><circle cx="301.2" cy="928.9" r="3.65"/><circle cx="304.5" cy="919.8" r="3.65"/><circle cx="307.8" cy="910.0" r="3.65"/><circle cx="311.1" cy="901.5" r="3.65"/><circle cx="314.4" cy="894.3" r="3.65"/><circle cx="317.7" cy="888.6" r="3.65"/><circle cx="321.0" cy="884.7" r="3.65"/><circle cx="324.3" cy="881.7" r="3.65"/><circle cx="327.6" cy="879.9" r="3.65"/><circle cx="330.9" cy="879.1" r="3.65"/><circle cx="334.2" cy="880.9" r="3.65"/><circle cx="337.5" cy="882.7" r="3.65"/><circle cx="340.8" cy="887.0" r="3.65"/><circle cx="344.1" cy="890.3" r="3.65"/><circle cx="347.4" cy="895.9" r="3.65"/><circle cx="350.7" cy="901.5" r="3.65"/><circle cx="354.0" cy="906.4" r="3.65"/><circle cx="357.3" cy="912.8" r="3.65"/><circle cx="360.6" cy="917.1" r="3.65"/><circle cx="363.9" cy="919.8" r="3.65"/><circle cx="367.2" cy="923.1" r="3.65"/><circle cx="370.5" cy="924.8" r="3.65"/><circle cx="373.8" cy="924.9" r="3.65"/><circle cx="377.1" cy="927.0" r="3.65"/><circle cx="380.4" cy="926.6" r="3.65"/><circle cx="383.7" cy="925.2" r="3.65"/><circle cx="387.0" cy="922.3" r="3.65"/><circle cx="390.3" cy="920.0" r="3.65"/><circle cx="393.6" cy="917.6" r="3.65"/><circle cx="396.9" cy="916.4" r="3.65"/><circle cx="400.2" cy="915.0" r="3.65"/><circle cx="403.5" cy="914.9" r="3.65"/><circle cx="406.8" cy="917.0" r="3.65"/><circle cx="410.1" cy="918.7" r="3.65"/><circle cx="413.4" cy="922.9" r="3.65"/><circle cx="416.7" cy="927.8" r="3.65"/><circle cx="420.0" cy="936.2" r="3.65"/><circle cx="423.3" cy="943.8" r="3.65"/><circle cx="426.6" cy="952.4" r="3.65"/><circle cx="429.9" cy="961.6" r="3.65"/><circle cx="433.2" cy="971.0" r="3.65"/><circle cx="436.5" cy="980.9" r="3.65"/><circle cx="439.8" cy="990.4" r="3.65"/><circle cx="443.1" cy="999.5" r="3.65"/><circle cx="446.4" cy="1007.9" r="3.65"/><circle cx="449.7" cy="1016.1" r="3.65"/><circle cx="453.0" cy="1022.3" r="3.65"/><circle cx="456.3" cy="1027.9" r="3.65"/><circle cx="459.6" cy="1032.7" r="3.65"/><circle cx="462.9" cy="1037.0" r="3.65"/><circle cx="466.2" cy="1041.8" r="3.65"/><circle cx="469.5" cy="1044.8" r="3.65"/><circle cx="472.8" cy="1047.9" r="3.65"/><circle cx="476.1" cy="1051.1" r="3.65"/><circle cx="479.4" cy="1054.0" r="3.65"/><circle cx="482.7" cy="1057.7" r="3.65"/><circle cx="486.0" cy="1061.4" r="3.65"/><circle cx="489.3" cy="1064.0" r="3.65"/><circle cx="492.6" cy="1067.2" r="3.65"/><circle cx="495.9" cy="1070.1" r="3.65"/><circle cx="499.2" cy="1072.5" r="3.65"/><circle cx="502.5" cy="1073.3" r="3.65"/><circle cx="505.8" cy="1074.5" r="3.65"/><circle cx="509.1" cy="1073.7" r="3.65"/><circle cx="512.4" cy="1072.7" r="3.65"/><circle cx="515.7" cy="1068.7" r="3.65"/><circle cx="519.0" cy="1064.7" r="3.65"/><circle cx="522.3" cy="1059.3" r="3.65"/><circle cx="525.6" cy="1051.7" r="3.65"/><circle cx="528.9" cy="1044.2" r="3.65"/><circle cx="532.2" cy="1037.3" r="3.65"/><circle cx="535.5" cy="1030.4" r="3.65"/><circle cx="538.8" cy="1024.2" r="3.65"/><circle cx="542.1" cy="1020.6" r="3.65"/><circle cx="545.4" cy="1018.9" r="3.65"/><circle cx="548.7" cy="1017.4" r="3.65"/><circle cx="552.0" cy="1018.7" r="3.65"/><circle cx="555.3" cy="1021.5" r="3.65"/><circle cx="558.6" cy="1026.6" r="3.65"/><circle cx="561.9" cy="1031.4" r="3.65"/><circle cx="565.2" cy="1037.3" r="3.65"/><circle cx="568.5" cy="1043.6" r="3.65"/><circle cx="571.8" cy="1046.4" r="3.65"/><circle cx="575.1" cy="1048.3" r="3.65"/><circle cx="578.4" cy="1045.9" r="3.65"/><circle cx="581.7" cy="1038.5" r="3.65"/><circle cx="585.0" cy="1027.3" r="3.49"/><circle cx="588.3" cy="1011.6" r="3.22"/><circle cx="591.6" cy="988.5" r="3.05"/><circle cx="594.9" cy="959.8" r="3.05"/><circle cx="598.2" cy="924.2" r="3.05"/><circle cx="601.5" cy="883.1" r="3.05"/><circle cx="604.8" cy="836.8" r="3.05"/><circle cx="608.1" cy="786.8" r="3.05"/><circle cx="611.4" cy="736.9" r="3.05"/><circle cx="614.7" cy="692.4" r="3.05"/><circle cx="618.0" cy="656.9" r="3.05"/><circle cx="621.3" cy="634.7" r="3.44"/><circle cx="624.6" cy="628.0" r="3.65"/><circle cx="627.9" cy="638.6" r="3.28"/><circle cx="631.2" cy="664.1" r="3.05"/><circle cx="634.5" cy="701.1" r="3.05"/><circle cx="637.8" cy="745.6" r="3.05"/><circle cx="641.1" cy="793.6" r="3.05"/><circle cx="644.4" cy="842.3" r="3.05"/><circle cx="647.7" cy="890.3" r="3.05"/><circle cx="651.0" cy="934.8" r="3.05"/><circle cx="654.3" cy="972.4" r="3.05"/><circle cx="657.6" cy="1004.1" r="3.05"/><circle cx="660.9" cy="1029.0" r="3.06"/><circle cx="664.2" cy="1049.8" r="3.31"/><circle cx="667.5" cy="1063.9" r="3.51"/><circle cx="670.8" cy="1075.7" r="3.61"/><circle cx="674.1" cy="1085.5" r="3.65"/><circle cx="677.4" cy="1092.0" r="3.65"/><circle cx="680.7" cy="1096.6" r="3.65"/><circle cx="684.0" cy="1099.8" r="3.65"/><circle cx="687.3" cy="1103.6" r="3.65"/><circle cx="690.6" cy="1106.0" r="3.65"/><circle cx="693.9" cy="1108.6" r="3.65"/><circle cx="697.2" cy="1111.0" r="3.65"/><circle cx="700.5" cy="1111.4" r="3.65"/><circle cx="703.8" cy="1111.8" r="3.65"/><circle cx="707.1" cy="1112.4" r="3.65"/><circle cx="710.4" cy="1113.4" r="3.65"/><circle cx="713.7" cy="1113.9" r="3.65"/><circle cx="717.0" cy="1113.9" r="3.65"/><circle cx="720.3" cy="1114.9" r="3.65"/><circle cx="723.6" cy="1114.7" r="3.65"/><circle cx="726.9" cy="1116.0" r="3.65"/><circle cx="730.2" cy="1116.3" r="3.65"/><circle cx="733.5" cy="1116.6" r="3.65"/><circle cx="736.8" cy="1116.2" r="3.65"/><circle cx="740.1" cy="1116.9" r="3.65"/><circle cx="743.4" cy="1116.9" r="3.65"/><circle cx="746.7" cy="1117.1" r="3.65"/><circle cx="750.0" cy="1117.4" r="3.65"/><circle cx="753.3" cy="1117.2" r="3.65"/><circle cx="756.6" cy="1117.4" r="3.65"/><circle cx="759.9" cy="1118.7" r="3.65"/><circle cx="763.2" cy="1118.5" r="3.65"/><circle cx="766.5" cy="1118.9" r="3.65"/><circle cx="769.8" cy="1119.5" r="3.65"/></g>
<g>
<text transform="translate(98.55 87.50) scale(1.022 1)" font-size="26.0" stroke-width="1.02">Si</text>
<text transform="translate(129.18 87.50) scale(1.014 1)" font-size="26.0" stroke-width="1.04">2p</text>
<text transform="translate(158.06 99.80) scale(1.390 1)" font-size="18" stroke-width="0.30">3/2</text>
<text transform="translate(95.19 138.70) scale(0.937 1)" font-size="24.5" stroke-width="1.30">h</text>
<text transform="translate(106.81 138.70) scale(0.870 1)" font-size="19" stroke-width="1.30" font-style="italic">ν</text>
<text transform="translate(127.38 137.70) scale(1.778 1)" font-size="18" stroke-width="0.90">=</text>
<text transform="translate(158.35 138.70) scale(1.141 1)" font-size="24" stroke-width="0.69">130</text>
<text transform="translate(216.34 138.70) scale(0.994 1)" font-size="25" stroke-width="1.10">eV</text>
<text transform="translate(722.99 89.50) scale(1.213 1)" font-size="25" stroke-width="0.52">5</text>
<text transform="translate(749.33 89.50) scale(1.060 1)" font-size="25.5" stroke-width="0.90">Å</text>
<text transform="translate(777.91 89.50) scale(1.027 1)" font-size="25" stroke-width="1.00">oxide</text>
<text transform="translate(404.53 320.75) scale(0.999 1)" font-size="26.0" stroke-width="1.09">Si</text>
<text transform="translate(427.84 305.00) scale(1.151 1)" font-size="17.5" stroke-width="0.69">3+</text>
<text transform="translate(472.33 375.70) scale(0.999 1)" font-size="26.0" stroke-width="1.09">Si</text>
<text transform="translate(495.40 362.00) scale(1.137 1)" font-size="17.5" stroke-width="0.71">2+</text>
<text transform="translate(536.53 413.00) scale(0.999 1)" font-size="26.0" stroke-width="1.09">Si</text>
<text transform="translate(561.07 399.80) scale(1.013 1)" font-size="17.5" stroke-width="0.98">1+</text>
<text transform="translate(291.28 476.00) scale(0.960 1)" font-size="26.0" stroke-width="1.23">SiO</text>
<text transform="translate(331.76 487.90) scale(1.193 1)" font-size="17.5" stroke-width="0.61">2</text>
<text transform="translate(614.87 478.00) scale(0.989 1)" font-size="25.5" stroke-width="1.13">Si</text>
<text transform="translate(744.15 512.60) scale(0.961 1)" font-size="26.5" stroke-width="1.23">Si</text>
<text transform="translate(765.63 512.60) scale(0.584 1)" font-size="26.5" stroke-width="1.30">(</text>
<text transform="translate(773.65 512.70) scale(0.628 1)" font-size="26.5" stroke-width="1.30">1</text>
<text transform="translate(787.96 512.80) scale(1.170 1)" font-size="26.5" stroke-width="0.61">0</text>
<text transform="translate(805.70 512.80) scale(1.130 1)" font-size="26.5" stroke-width="0.71">0</text>
<text transform="translate(823.57 512.90) scale(0.641 1)" font-size="26.5" stroke-width="1.30">)</text>
<text transform="translate(742.61 1094.40) scale(0.935 1)" font-size="26" stroke-width="1.30">Si</text>
<text transform="translate(763.26 1094.40) scale(0.581 1)" font-size="26" stroke-width="1.30">(</text>
<text transform="translate(771.27 1094.60) scale(0.578 1)" font-size="26" stroke-width="1.30">1</text>
<text transform="translate(788.07 1094.60) scale(0.578 1)" font-size="26" stroke-width="1.30">1</text>
<text transform="translate(804.37 1094.60) scale(0.578 1)" font-size="26" stroke-width="1.30">1</text>
<text transform="translate(821.07 1094.70) scale(0.682 1)" font-size="26" stroke-width="1.30">)</text>
<text transform="translate(23.84 1187.60) scale(1.165 1)" font-size="25" stroke-width="0.63">−7</text>
<text transform="translate(107.08 1187.80) scale(1.214 1)" font-size="25" stroke-width="0.52">−6</text>
<text transform="translate(190.52 1188.00) scale(1.181 1)" font-size="25" stroke-width="0.59">−5</text>
<text transform="translate(273.49 1188.20) scale(1.205 1)" font-size="25" stroke-width="0.54">−4</text>
<text transform="translate(358.15 1188.50) scale(1.161 1)" font-size="25" stroke-width="0.64">−3</text>
<text transform="translate(439.83 1189.00) scale(1.254 1)" font-size="25" stroke-width="0.44">−2</text>
<text transform="translate(521.63 1189.20) scale(1.094 1)" font-size="25" stroke-width="0.81">−1</text>
<text transform="translate(614.89 1189.50) scale(1.114 1)" font-size="25" stroke-width="0.76">0</text>
<text transform="translate(701.39 1189.60) scale(0.647 1)" font-size="25" stroke-width="1.30">1</text>
<text transform="translate(782.95 1189.80) scale(1.160 1)" font-size="25" stroke-width="0.64">2</text>
<text transform="translate(865.96 1189.60) scale(1.112 1)" font-size="25" stroke-width="0.76">3</text>
<text transform="translate(151.31 1222.00) rotate(0.35) scale(0.911 1)" font-size="26" stroke-width="1.30">Initial</text>
<text transform="translate(207.94 1222.37) rotate(0.35) scale(1.758 1)" font-size="26" stroke-width="0.15">-</text>
<text transform="translate(223.20 1222.46) rotate(0.35) scale(1.028 1)" font-size="26" stroke-width="1.00">State</text>
<text transform="translate(301.48 1222.97) rotate(0.35) scale(0.941 1)" font-size="26" stroke-width="1.30">Energy</text>
<text transform="translate(398.82 1223.60) rotate(0.35) scale(0.668 1)" font-size="26" stroke-width="1.30">(</text>
<text transform="translate(412.31 1223.69) rotate(0.35) scale(0.985 1)" font-size="26" stroke-width="1.14">eV</text>
<text transform="translate(462.12 1224.02) rotate(0.35) scale(0.874 1)" font-size="26" stroke-width="1.30">relative</text>
<text transform="translate(546.69 1224.56) rotate(0.35) scale(0.791 1)" font-size="26" stroke-width="1.30">to</text>
<text transform="translate(574.32 1224.74) rotate(0.35) scale(0.819 1)" font-size="26" stroke-width="1.30">bulk</text>
<text transform="translate(635.52 1225.14) rotate(0.35) scale(1.097 1)" font-size="26" stroke-width="0.80">Si2p</text>
<text transform="translate(735.47 1225.78) rotate(0.35) scale(0.668 1)" font-size="26" stroke-width="1.30">)</text>
<text transform="translate(693.32 1234.60) rotate(0.35) scale(1.454 1)" font-size="18" stroke-width="0.22">3/2</text>
<text transform="translate(31.60 773.96) rotate(-90) scale(0.909 1)" font-size="27.5" stroke-width="1.30">Photoemission</text>
<text transform="translate(31.60 594.64) rotate(-90) scale(0.922 1)" font-size="27.5" stroke-width="1.30">Intensity</text>
<text transform="translate(31.60 482.36) rotate(-90) scale(0.617 1)" font-size="27.5" stroke-width="1.30">(</text>
<text transform="translate(31.60 473.56) rotate(-90) scale(0.926 1)" font-size="27.5" stroke-width="1.30">Arb.</text>
<text transform="translate(31.60 419.36) rotate(-90) scale(0.920 1)" font-size="27.5" stroke-width="1.30">Units</text>
<text transform="translate(31.60 361.43) rotate(-90) scale(0.617 1)" font-size="27.5" stroke-width="1.30">)</text>
</g>
</svg>
</body></html>
